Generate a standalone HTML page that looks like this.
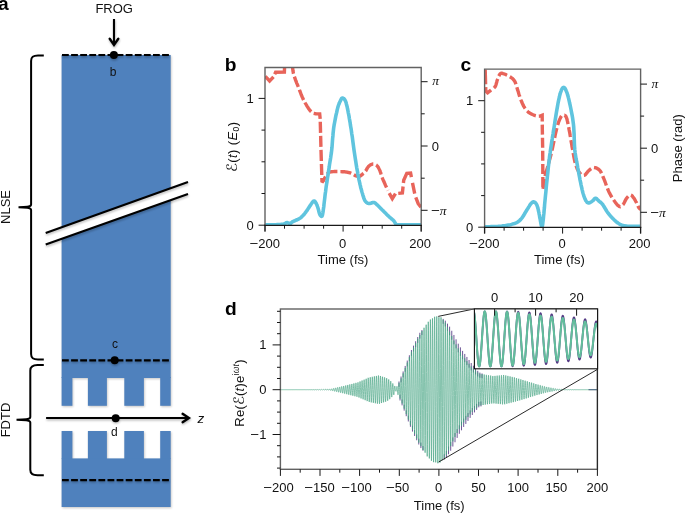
<!DOCTYPE html>
<html lang="en"><head><meta charset="utf-8"><title>Figure</title>
<style>html,body{margin:0;padding:0;background:#fff}svg{display:block}</style></head>
<body>
<svg width="685" height="514" viewBox="0 0 685 514" font-family="'Liberation Sans', 'DejaVu Sans', sans-serif" font-size="13" fill="#111">
<rect width="685" height="514" fill="#fff"/>
<g id="panel-a">
<text x="-2.1" y="9.7" font-size="19.2" font-weight="bold" fill="#000">a</text>
<text x="114.2" y="13.2" text-anchor="middle">FROG</text>
<defs><filter id="sh" x="-20%" y="-20%" width="140%" height="140%"><feGaussianBlur stdDeviation="0.9"/></filter></defs>
<g fill="#000" opacity="0.22" filter="url(#sh)" transform="translate(0.8 1.1)"><rect x="61.6" y="55" width="109.1" height="323"/><rect x="61.6" y="377" width="10.8" height="28.8"/><rect x="61.6" y="431" width="10.8" height="28"/><rect x="87.9" y="377" width="19.0" height="28.8"/><rect x="87.9" y="431" width="19.0" height="28"/><rect x="124.3" y="377" width="19.6" height="28.8"/><rect x="124.3" y="431" width="19.6" height="28"/><rect x="160.2" y="377" width="10.5" height="28.8"/><rect x="160.2" y="431" width="10.5" height="28"/><rect x="61.6" y="458.4" width="109.1" height="48.6"/></g>
<g fill="#4f81bd"><rect x="61.6" y="55" width="109.1" height="323"/><rect x="61.6" y="377" width="10.8" height="28.8"/><rect x="61.6" y="431" width="10.8" height="28"/><rect x="87.9" y="377" width="19.0" height="28.8"/><rect x="87.9" y="431" width="19.0" height="28"/><rect x="124.3" y="377" width="19.6" height="28.8"/><rect x="124.3" y="431" width="19.6" height="28"/><rect x="160.2" y="377" width="10.5" height="28.8"/><rect x="160.2" y="431" width="10.5" height="28"/><rect x="61.6" y="458.4" width="109.1" height="48.6"/></g>
<polygon points="45.7,233 188,182 188,194 45.7,244.6" fill="#fff"/>
<g stroke="#000" fill="none" opacity="0.28" filter="url(#sh)" transform="translate(0.4 1.4)"><path d="M45.7 233 L188 182 M45.7 244.6 L188 194" stroke-width="2.1"/><path d="M62 55 H170.8" stroke-width="2.2" stroke-dasharray="6.8 2.3"/><path d="M62 360.3 H170.8" stroke-width="2.2" stroke-dasharray="6.8 2.3"/><path d="M62 480.1 H170.8" stroke-width="2.2" stroke-dasharray="6.8 2.3"/><path d="M114 19 V45" stroke-width="2.1"/><path d="M109.7 38.8 L114 45 L118.3 38.8" stroke-width="2.4" stroke-linecap="round" stroke-linejoin="miter"/><path d="M46.1 418 H189" stroke-width="2.2"/><path d="M182.6 413.8 L188.9 418 L182.6 422.2" stroke-width="2.4" stroke-linecap="round" stroke-linejoin="miter"/><circle cx="113.9" cy="55" r="4" fill="#000" stroke="none"/><circle cx="114.7" cy="360.3" r="4" fill="#000" stroke="none"/><circle cx="115.7" cy="418.2" r="4" fill="#000" stroke="none"/></g>
<g stroke="#000" fill="none"><path d="M45.7 233 L188 182 M45.7 244.6 L188 194" stroke-width="2.1"/><path d="M62 55 H170.8" stroke-width="2.2" stroke-dasharray="6.8 2.3"/><path d="M62 360.3 H170.8" stroke-width="2.2" stroke-dasharray="6.8 2.3"/><path d="M62 480.1 H170.8" stroke-width="2.2" stroke-dasharray="6.8 2.3"/><path d="M114 19 V45" stroke-width="2.1"/><path d="M109.7 38.8 L114 45 L118.3 38.8" stroke-width="2.4" stroke-linecap="round" stroke-linejoin="miter"/><path d="M46.1 418 H189" stroke-width="2.2"/><path d="M182.6 413.8 L188.9 418 L182.6 422.2" stroke-width="2.4" stroke-linecap="round" stroke-linejoin="miter"/><circle cx="113.9" cy="55" r="4" fill="#000" stroke="none"/><circle cx="114.7" cy="360.3" r="4" fill="#000" stroke="none"/><circle cx="115.7" cy="418.2" r="4" fill="#000" stroke="none"/></g>
<text x="197.6" y="422.7" font-style="italic" font-size="13.5">z</text>
<text x="113" y="75.5" text-anchor="middle" font-size="12">b</text>
<text x="115" y="348.2" text-anchor="middle" font-size="12">c</text>
<text x="114.3" y="436.3" text-anchor="middle" font-size="12">d</text>
<path d="M43.8 55.6 H38 C33 55.6 31.1 57 31.1 61 V204.6 C31.1 206.6 29 207.3 18.5 207.3 C29 207.3 31.1 208 31.1 210 V354 C31.1 358 33 359.5 38 359.5 H43.8" stroke="#000" stroke-width="2" fill="none"/>
<path d="M43.8 364.9 H37.5 C32.5 364.9 30.3 366.3 30.3 370.5 V417.1 C30.3 419.1 28 419.8 16.5 419.8 C28 419.8 30.3 420.5 30.3 422.5 V469.8 C30.3 473.8 32.5 475.3 37.5 475.3 H43.8" stroke="#000" stroke-width="2" fill="none"/>
<text transform="translate(10.3 207) rotate(-90)" text-anchor="middle">NLSE</text>
<text transform="translate(9.9 420) rotate(-90)" text-anchor="middle">FDTD</text>
</g>
<g id="panel-b">
<clipPath id="clipb"><rect x="265" y="67.5" width="156.2" height="157.5"/></clipPath>
<g clip-path="url(#clipb)">
<path d="M265.3 76.3 L269.6 81.0 L273.5 76.8 L275.6 72.3 L284.4 72.1 L284.8 60.0" stroke="#e8645a" stroke-width="3.4" stroke-dasharray="12.1 2.9 40 3" stroke-dashoffset="0" fill="none" stroke-linejoin="miter" stroke-miterlimit="2.2"/>
<path d="M292.5 62.8 L292.6 67.8 L292.6 67.8 L292.7 68.2 L292.7 68.8 L292.8 69.5 L292.9 70.3 L293.0 71.1 L293.2 72.0 L293.3 72.9 L293.5 73.7 L293.7 74.5 L294.0 75.4 L294.3 76.3 L294.6 77.2 L294.9 78.1 L295.2 79.0 L295.5 79.9 L295.8 80.7 L296.1 81.5 L296.4 82.2 L296.6 82.8 L296.9 83.5 L297.2 84.1 L297.5 84.8 L297.8 85.6 L298.2 86.5 L298.6 87.5 L299.0 88.6 L299.4 89.8 L299.8 91.0 L300.3 92.2 L300.8 93.5 L301.2 94.7 L301.7 95.8 L302.2 96.9 L302.7 97.9 L303.1 99.0 L303.6 100.0 L304.2 101.0 L304.7 102.0 L305.2 103.0 L305.8 104.0 L306.4 105.0 L307.0 106.1 L307.7 107.1 L308.4 108.2 L309.1 109.2 L309.8 110.1 L310.4 110.9 L311.0 111.6 L311.6 112.1 L312.1 112.6 L312.6 112.9 L313.1 113.1 L313.6 113.3 L314.1 113.4 L314.6 113.6 L315.1 113.7 L315.7 113.8 L316.3 113.9 L317.0 113.9 L317.7 113.9 L318.3 113.9 L318.9 113.9 L319.3 113.9 L319.7 113.9 L320.2 119.0 L321.0 150.0 L322.0 182.3 L323.3 180.8 L323.5 180.4 L323.8 179.9 L324.1 179.3 L324.5 178.6 L324.8 177.9 L325.2 177.2 L325.6 176.6 L326.0 176.0 L326.4 175.5 L326.7 174.9 L327.0 174.4 L327.4 173.9 L327.8 173.4 L328.2 173.0 L328.7 172.6 L329.2 172.3 L329.8 172.1 L330.5 171.9 L331.2 171.7 L332.0 171.7 L332.7 171.6 L333.5 171.6 L334.3 171.5 L335.0 171.5 L335.7 171.5 L336.4 171.5 L337.1 171.5 L337.7 171.5 L338.4 171.5 L339.1 171.5 L339.8 171.6 L340.5 171.6 L341.3 171.6 L342.0 171.7 L342.8 171.7 L343.7 171.8 L344.5 171.8 L345.2 171.9 L346.0 172.0 L346.7 172.1 L347.4 172.2 L348.0 172.3 L348.6 172.5 L349.1 172.6 L349.7 172.7 L350.2 172.9 L350.8 173.1 L351.3 173.3 L351.8 173.5 L352.4 173.8 L352.9 174.2 L353.5 174.5 L354.0 174.8 L354.5 175.1 L354.9 175.4 L355.4 175.6 L355.8 175.8 L356.2 175.9 L356.6 176.0 L357.0 176.1 L357.3 176.2 L357.6 176.3 L358.0 176.3 L358.3 176.3 L358.6 176.3 L358.9 176.3 L359.1 176.3 L359.4 176.2 L359.7 176.2 L360.0 176.0 L360.3 175.9 L360.7 175.6 L361.2 175.3 L361.7 174.8 L362.3 174.4 L362.9 173.8 L363.6 173.3 L364.2 172.7 L364.8 172.1 L365.3 171.5 L365.8 170.9 L366.2 170.3 L366.5 169.6 L366.9 168.9 L367.3 168.2 L367.6 167.6 L368.1 167.0 L368.5 166.5 L369.0 166.0 L369.5 165.6 L370.1 165.2 L370.7 164.8 L371.2 164.5 L371.8 164.3 L372.4 164.1 L372.9 164.0 L373.4 164.0 L373.9 164.0 L374.4 164.2 L374.9 164.4 L375.4 164.6 L375.9 164.9 L376.4 165.2 L376.8 165.6 L377.2 166.0 L377.6 166.4 L378.0 166.9 L378.3 167.4 L378.6 168.0 L379.0 168.7 L379.3 169.4 L379.7 170.2 L380.1 171.1 L380.4 172.1 L380.8 173.1 L381.1 174.2 L381.5 175.4 L381.9 176.6 L382.3 177.8 L382.8 179.1 L383.4 180.5 L384.1 182.0 L384.8 183.7 L385.5 185.4 L386.3 187.0 L386.9 188.4 L387.5 189.6 L387.9 190.5" stroke="#e8645a" stroke-width="3.4" stroke-dasharray="11.05 3.0" stroke-dashoffset="0" fill="none" stroke-linejoin="miter" stroke-miterlimit="2.2"/>
<path d="M389.2 193.2 L392.3 198.7 L395.5 193.6 L402.4 193.0 L403.7 180.3 L406.8 173.4 L410.6 173.1 L412.5 182.9 L415.1 195.5 L418.2 203.7 L421.0 207.3" stroke="#e8645a" stroke-width="3.4" stroke-dasharray="12.3 2.8 10.7 3.5 18.2 5.8 11 3.9 12 3" stroke-dashoffset="0" fill="none" stroke-linejoin="miter" stroke-miterlimit="2.2"/>
<path d="M265.2 224.9 L266.0 224.9 L267.0 224.9 L268.2 224.9 L269.6 224.8 L271.0 224.8 L272.4 224.8 L273.8 224.7 L275.0 224.7 L276.1 224.7 L277.2 224.6 L278.3 224.6 L279.4 224.5 L280.4 224.5 L281.4 224.4 L282.3 224.3 L283.1 224.2 L283.8 224.0 L284.4 223.8 L284.9 223.6 L285.4 223.3 L285.8 223.1 L286.2 222.8 L286.6 222.7 L287.0 222.6 L287.4 222.6 L287.8 222.8 L288.2 223.0 L288.5 223.2 L288.9 223.4 L289.2 223.6 L289.5 223.7 L289.9 223.7 L290.2 223.6 L290.6 223.4 L290.9 223.2 L291.2 222.9 L291.5 222.6 L291.9 222.2 L292.3 221.9 L292.8 221.6 L293.4 221.3 L294.1 221.0 L294.9 220.7 L295.7 220.3 L296.5 220.0 L297.3 219.7 L298.0 219.3 L298.7 219.0 L299.3 218.7 L299.8 218.3 L300.3 218.0 L300.7 217.7 L301.2 217.3 L301.6 217.0 L302.0 216.6 L302.5 216.1 L303.0 215.6 L303.5 215.1 L304.0 214.5 L304.4 213.9 L304.9 213.3 L305.4 212.6 L305.9 212.0 L306.4 211.3 L306.9 210.6 L307.4 209.9 L307.9 209.1 L308.4 208.3 L308.9 207.6 L309.4 206.8 L309.8 206.1 L310.3 205.4 L310.8 204.7 L311.2 204.0 L311.7 203.3 L312.1 202.7 L312.6 202.1 L313.0 201.6 L313.4 201.2 L313.8 201.0 L314.2 201.0 L314.5 201.1 L314.8 201.3 L315.1 201.7 L315.4 202.1 L315.7 202.5 L315.9 203.0 L316.2 203.5 L316.5 204.0 L316.7 204.5 L317.0 205.1 L317.2 205.7 L317.4 206.4 L317.7 207.1 L317.9 207.7 L318.1 208.4 L318.3 209.1 L318.5 209.9 L318.7 210.7 L318.9 211.5 L319.1 212.3 L319.3 213.0 L319.5 213.7 L319.7 214.2 L320.0 214.7 L320.2 215.2 L320.5 215.6 L320.9 216.0 L321.2 216.3 L321.5 216.4 L321.7 216.3 L322.0 216.1 L322.2 215.7 L322.4 215.1 L322.6 214.4 L322.7 213.6 L322.9 212.6 L323.1 211.4 L323.3 210.0 L323.5 208.4 L323.8 206.5 L324.0 204.4 L324.3 201.9 L324.6 199.4 L324.9 196.7 L325.2 194.0 L325.6 191.4 L325.9 188.9 L326.2 186.5 L326.6 184.0 L327.0 181.6 L327.3 179.2 L327.7 176.8 L328.1 174.4 L328.4 171.9 L328.8 169.5 L329.2 167.1 L329.5 164.7 L329.9 162.3 L330.3 159.9 L330.7 157.5 L331.0 155.1 L331.4 152.6 L331.7 150.0 L332.0 147.3 L332.2 144.6 L332.4 141.7 L332.6 138.9 L332.9 136.0 L333.1 133.2 L333.4 130.5 L333.7 127.8 L334.1 125.2 L334.6 122.5 L335.1 119.8 L335.6 117.2 L336.1 114.7 L336.7 112.4 L337.1 110.3 L337.6 108.4 L338.0 106.8 L338.4 105.5 L338.8 104.4 L339.2 103.5 L339.5 102.6 L339.9 101.9 L340.2 101.2 L340.5 100.6 L340.8 100.0 L341.1 99.4 L341.3 99.0 L341.5 98.6 L341.8 98.3 L342.0 98.1 L342.3 98.0 L342.6 98.0 L342.9 98.1 L343.3 98.3 L343.7 98.5 L344.1 98.8 L344.5 99.3 L344.9 99.9 L345.3 100.7 L345.7 101.6 L346.1 102.7 L346.4 104.0 L346.8 105.5 L347.2 107.0 L347.5 108.7 L347.9 110.5 L348.2 112.3 L348.6 114.2 L349.0 116.1 L349.3 118.2 L349.7 120.4 L350.1 122.6 L350.4 124.9 L350.8 127.2 L351.2 129.4 L351.5 131.7 L351.8 134.0 L352.2 136.3 L352.5 138.6 L352.8 141.0 L353.1 143.3 L353.4 145.6 L353.7 147.8 L354.0 150.0 L354.3 152.1 L354.6 154.1 L354.9 156.1 L355.2 158.0 L355.5 159.9 L355.8 161.8 L356.1 163.7 L356.4 165.6 L356.7 167.6 L357.1 169.6 L357.5 171.6 L357.8 173.6 L358.2 175.6 L358.6 177.5 L358.9 179.3 L359.3 181.1 L359.7 182.8 L360.0 184.4 L360.4 185.9 L360.7 187.4 L361.1 188.8 L361.5 190.2 L361.8 191.5 L362.2 192.8 L362.6 194.0 L362.9 195.2 L363.3 196.4 L363.6 197.5 L364.0 198.5 L364.4 199.4 L364.8 200.3 L365.2 201.0 L365.6 201.6 L366.1 202.1 L366.5 202.5 L367.0 202.8 L367.5 203.1 L368.0 203.3 L368.5 203.4 L369.0 203.5 L369.6 203.5 L370.2 203.4 L370.8 203.2 L371.4 203.0 L372.1 202.7 L372.7 202.6 L373.3 202.5 L373.9 202.5 L374.4 202.7 L374.9 202.9 L375.4 203.2 L375.8 203.5 L376.2 203.9 L376.7 204.4 L377.2 204.9 L377.8 205.4 L378.4 206.0 L379.1 206.7 L379.8 207.4 L380.6 208.2 L381.3 209.0 L382.1 209.8 L382.9 210.5 L383.6 211.3 L384.3 212.0 L385.1 212.8 L385.9 213.6 L386.7 214.4 L387.4 215.1 L388.2 215.8 L388.9 216.5 L389.5 217.1 L390.1 217.6 L390.6 218.1 L391.2 218.5 L391.6 218.9 L392.1 219.2 L392.5 219.6 L393.0 220.0 L393.4 220.4 L393.8 220.9 L394.2 221.4 L394.5 221.9 L394.9 222.5 L395.2 223.0 L395.5 223.5 L395.9 223.9 L396.3 224.2 L396.6 224.4 L396.8 224.6 L396.9 224.6 L397.0 224.7 L397.3 224.7 L397.8 224.7 L398.7 224.7 L400.0 224.7 L402.0 224.7 L404.6 224.8 L407.6 224.8 L410.8 224.8 L414.0 224.9 L417.0 224.9 L419.4 224.9 L421.2 224.9" stroke="#5fc4de" stroke-width="3.6" fill="none" stroke-linejoin="round" stroke-linecap="butt"/>
</g>
<path d="M265 231.6 V67.5 H421.2 V231.6" fill="none" stroke="#626262" stroke-width="1.4" stroke-linejoin="miter"/>
<path d="M264.3 225.4 H421.9" fill="none" stroke="#1a1a1a" stroke-width="1.1"/>
<path d="M265 225.2 h-6.4 M265 193.5 h-3.5 M265 161.8 h-3.5 M265 130.1 h-3.5 M265 98.4 h-6.4 M421.2 210.3 h6.4 M421.2 178.2 h3.5 M421.2 146.0 h6.4 M421.2 113.8 h3.5 M421.2 81.7 h6.4 M265.0 225.2 v6.4 M284.5 225.2 v3.5 M304.1 225.2 v3.5 M323.6 225.2 v3.5 M343.1 225.2 v6.4 M362.6 225.2 v3.5 M382.2 225.2 v3.5 M401.7 225.2 v3.5 M421.2 225.2 v6.4" stroke="#161616" stroke-width="1" fill="none"/>
<text x="253.7" y="102.9" text-anchor="end">1</text>
<text x="253.7" y="229.7" text-anchor="end">0</text>
<text x="264.7" y="248.2" text-anchor="middle"><tspan textLength="8.8" lengthAdjust="spacingAndGlyphs">−</tspan>200</text>
<text x="342.6" y="248.2" text-anchor="middle">0</text>
<text x="420.2" y="248.2" text-anchor="middle">200</text>
<text x="343" y="264.3" text-anchor="middle">Time (fs)</text>
<text x="432.2" y="85.4" font-family="'Liberation Serif', 'DejaVu Serif', serif" font-style="italic" font-size="13.5">π</text>
<text x="431.7" y="150.5">0</text>
<text x="430.9" y="214.7"><tspan textLength="8.8" lengthAdjust="spacingAndGlyphs">−</tspan><tspan font-family="'Liberation Serif', 'DejaVu Serif', serif" font-style="italic" font-size="13.5">π</tspan></text>
<text x="224.7" y="70.55" font-size="19.2" font-weight="bold" fill="#000">b</text>
<text transform="translate(236.5 146.8) rotate(-90)" text-anchor="middle" letter-spacing="0.4"><tspan font-family="'DejaVu Sans', sans-serif" font-style="italic" font-size="14.5">ℰ</tspan>(<tspan font-style="italic">t</tspan>) (<tspan font-style="italic">E</tspan><tspan font-size="8.5" dy="2.5">0</tspan><tspan dy="-2.5">)</tspan></text>
</g>
<g id="panel-c">
<clipPath id="clipc"><rect x="484.6" y="69.1" width="156.0" height="157.9"/></clipPath>
<g clip-path="url(#clipc)">
<path d="M485.2 69.6 L485.8 91.0 L487.6 92.8 L487.6 92.8 L487.9 92.6 L488.2 92.3 L488.6 92.0 L489.1 91.6 L489.6 91.2 L490.1 90.8 L490.6 90.4 L491.1 90.0 L491.6 89.6 L492.1 89.3 L492.7 88.9 L493.2 88.5 L493.8 88.1 L494.3 87.6 L494.8 87.1 L495.2 86.5 L495.6 85.8 L495.9 85.0 L496.2 84.1 L496.4 83.1 L496.7 82.2 L496.9 81.2 L497.2 80.3 L497.5 79.5 L497.8 78.7 L498.1 77.8 L498.5 77.0 L498.8 76.1 L499.2 75.4 L499.5 74.7 L499.9 74.1 L500.4 73.7 L500.9 73.4 L501.4 73.3 L502.0 73.3 L502.5 73.4 L503.1 73.6 L503.8 73.8 L504.4 74.0 L505.1 74.3 L505.8 74.6 L506.6 75.0 L507.5 75.4 L508.4 75.8 L509.2 76.3 L510.1 76.8 L510.8 77.3 L511.5 77.8 L512.1 78.3 L512.6 78.7 L513.1 79.1 L513.5 79.6 L513.9 80.1 L514.3 80.6 L514.6 81.2 L515.0 81.8 L515.3 82.5 L515.6 83.3 L515.9 84.1 L516.2 85.0 L516.4 85.9 L516.7 86.8 L517.0 87.8 L517.3 88.8 L517.6 89.9 L518.0 91.0 L518.4 92.2 L518.7 93.4 L519.1 94.7 L519.5 95.9 L519.9 97.1 L520.3 98.2 L520.7 99.3 L521.1 100.4 L521.6 101.5 L522.0 102.5 L522.4 103.5 L522.9 104.5 L523.3 105.4 L523.8 106.3 L524.3 107.1 L524.7 107.9 L525.2 108.6 L525.7 109.3 L526.2 109.9 L526.7 110.5 L527.3 111.1 L527.8 111.6 L528.3 112.1 L528.9 112.5 L529.5 112.9 L530.0 113.3 L530.6 113.6 L531.2 113.9 L531.9 114.2 L532.5 114.5 L533.2 114.8 L533.9 115.1 L534.7 115.4 L535.4 115.7 L536.2 115.9 L537.0 116.1 L537.7 116.2 L538.3 116.3 L538.9 116.3 L539.5 116.2 L540.1 116.0 L540.6 115.8 L541.1 115.6 L541.5 115.4 L541.9 115.2 L542.2 115.1 L542.3 127.8 L542.7 150.0 L542.9 189.5 L545.2 175.3 L545.5 174.3 L545.9 172.9 L546.4 171.2 L546.9 169.4 L547.5 167.4 L548.1 165.4 L548.6 163.5 L549.1 161.7 L549.5 160.0 L550.0 158.4 L550.4 156.9 L550.8 155.3 L551.2 153.6 L551.6 151.9 L552.0 150.0 L552.5 148.0 L553.0 145.7 L553.5 143.2 L554.1 140.5 L554.7 137.7 L555.2 135.0 L555.8 132.3 L556.4 129.9 L556.9 127.8 L557.4 125.9 L557.9 124.3 L558.4 122.7 L558.9 121.3 L559.4 120.1 L559.9 118.9 L560.4 118.0 L560.8 117.1 L561.2 116.4 L561.6 115.9 L562.0 115.5 L562.3 115.3 L562.7 115.2 L563.0 115.1 L563.3 115.1 L563.7 115.2 L564.1 115.3 L564.4 115.3 L564.8 115.5 L565.2 115.7 L565.5 116.0 L565.9 116.5 L566.2 117.2 L566.6 118.1 L567.0 119.3 L567.3 120.7 L567.7 122.3 L568.0 124.0 L568.4 125.9 L568.8 127.8 L569.1 129.8 L569.5 131.7 L569.9 133.7 L570.2 135.7 L570.6 137.8 L570.9 140.0 L571.3 142.2 L571.7 144.3 L572.0 146.5 L572.4 148.5 L572.8 150.5 L573.1 152.5 L573.5 154.6 L573.8 156.5 L574.2 158.5 L574.6 160.3 L575.0 162.0 L575.4 163.6 L575.8 165.0 L576.3 166.4 L576.8 167.6 L577.2 168.8 L577.7 169.8 L578.2 170.8 L578.8 171.6 L579.3 172.4 L579.9 173.1 L580.5 173.7 L581.1 174.3 L581.7 174.7 L582.3 175.0 L583.0 175.3 L583.6 175.4 L584.2 175.3 L584.8 175.0 L585.4 174.6 L586.0 173.9 L586.6 173.2 L587.2 172.4 L587.8 171.7 L588.4 171.0 L589.0 170.4 L589.6 169.9 L590.2 169.4 L590.8 168.9 L591.4 168.5 L592.0 168.1 L592.6 167.8 L593.2 167.6 L593.9 167.5 L594.6 167.6 L595.3 167.7 L596.1 167.9 L596.9 168.3 L597.6 168.7 L598.4 169.2 L599.1 169.8 L599.7 170.4 L600.3 171.1 L600.8 171.9 L601.3 172.8 L601.7 173.7 L602.1 174.7 L602.6 175.8 L603.1 177.0 L603.6 178.2 L604.2 179.6 L604.8 181.1 L605.4 182.8 L606.0 184.5 L606.6 186.2 L607.3 187.9 L607.9 189.5 L608.5 190.9 L609.1 192.2 L609.7 193.4 L610.3 194.5 L610.9 195.6 L611.5 196.7 L612.1 197.7 L612.7 198.6 L613.4 199.6 L614.1 200.6 L614.8 201.6 L615.6 202.7 L616.4 203.7 L617.1 204.6 L617.9 205.4 L618.6 206.0 L619.2 206.4 L619.8 206.6 L620.3 206.7 L620.8 206.5 L621.3 206.3 L621.7 206.0 L622.2 205.5 L622.6 205.0 L623.1 204.5 L623.6 203.9 L624.1 203.0 L624.6 202.1 L625.0 201.1 L625.5 200.2 L626.0 199.2 L626.5 198.4 L627.0 197.7 L627.5 197.1 L628.0 196.6 L628.5 196.1 L629.0 195.7 L629.4 195.4 L629.9 195.2 L630.4 195.1 L630.9 195.1 L631.4 195.3 L631.9 195.6 L632.4 196.1 L632.8 196.7 L633.3 197.4 L633.8 198.1 L634.3 198.8 L634.8 199.6 L635.3 200.5 L635.8 201.5 L636.4 202.5 L636.9 203.7 L637.4 204.8 L637.9 205.8 L638.3 206.7 L638.7 207.4 L639.0 207.9 L639.4 208.3 L639.6 208.6 L639.9 208.8 L640.1 209.0 L640.3 209.1 L640.5 209.2 L640.6 209.3" stroke="#e8645a" stroke-width="3.4" stroke-dasharray="14.6 2.9 10.9 3.5 10 3.1 10 3.1 10 3.1 10 3.1 10 3.1 10 3.1 10 3.1 10 3.1 10 3.1 10 3.1 10 3.1 10 3.1 10 3.1 10 3.1 10 3.1 10 3.1 10 3.1 10 3.1 10 3.1 10 3.1 10 3.1 10 3.1 10 3.1 10 3.1 10 3.1 10 3.1 10 3.1 10 3.1 10 3.1 10 3.1 10 3.1 10 3.1 10 3.1 10 3.1 10 3.1 10 3.1 10 3.1 10 3.1 10 3.1 10 3.1" stroke-dashoffset="0" fill="none" stroke-linejoin="miter" stroke-miterlimit="2.2"/>
<path d="M484.9 226.8 L485.4 226.8 L486.2 226.8 L487.0 226.7 L488.0 226.7 L489.0 226.7 L490.0 226.7 L491.0 226.6 L492.0 226.6 L492.9 226.6 L493.8 226.6 L494.7 226.5 L495.6 226.5 L496.5 226.5 L497.5 226.5 L498.5 226.4 L499.5 226.3 L500.6 226.2 L501.8 226.1 L503.1 225.9 L504.3 225.7 L505.6 225.6 L506.9 225.4 L508.1 225.1 L509.2 224.9 L510.3 224.7 L511.4 224.4 L512.4 224.1 L513.4 223.8 L514.4 223.5 L515.3 223.2 L516.2 222.8 L517.0 222.4 L517.7 222.0 L518.4 221.5 L519.0 221.1 L519.6 220.6 L520.1 220.0 L520.7 219.5 L521.2 218.8 L521.8 218.1 L522.4 217.3 L523.0 216.4 L523.7 215.4 L524.3 214.3 L524.9 213.3 L525.5 212.2 L526.1 211.2 L526.7 210.3 L527.2 209.4 L527.8 208.5 L528.3 207.7 L528.8 206.9 L529.3 206.1 L529.7 205.3 L530.2 204.7 L530.6 204.1 L531.0 203.6 L531.4 203.2 L531.8 202.8 L532.1 202.5 L532.5 202.2 L532.8 202.0 L533.1 201.9 L533.5 201.9 L533.9 201.9 L534.2 202.0 L534.6 202.2 L535.0 202.5 L535.4 202.8 L535.7 203.2 L536.1 203.6 L536.4 204.1 L536.7 204.7 L537.0 205.3 L537.2 206.0 L537.5 206.7 L537.7 207.5 L537.9 208.4 L538.2 209.3 L538.4 210.3 L538.6 211.4 L538.9 212.5 L539.1 213.8 L539.4 215.1 L539.6 216.4 L539.8 217.7 L540.1 218.9 L540.3 220.0 L540.5 221.1 L540.7 222.2 L540.9 223.4 L541.1 224.4 L541.3 225.4 L541.5 226.1 L541.7 226.6 L541.9 226.8 L542.1 226.7 L542.2 226.4 L542.4 225.9 L542.5 225.2 L542.7 224.2 L542.8 223.0 L543.0 221.6 L543.2 220.0 L543.4 218.1 L543.6 215.9 L543.9 213.4 L544.1 210.7 L544.4 207.8 L544.6 204.8 L544.9 201.7 L545.2 198.6 L545.5 195.3 L545.9 191.6 L546.2 187.8 L546.6 183.9 L547.0 180.0 L547.4 176.3 L547.8 172.7 L548.1 169.5 L548.4 166.6 L548.7 164.0 L549.0 161.6 L549.3 159.3 L549.5 157.1 L549.8 154.8 L550.2 152.5 L550.5 150.0 L550.9 147.4 L551.3 144.7 L551.7 141.9 L552.2 139.1 L552.6 136.3 L553.1 133.5 L553.5 130.6 L554.0 127.8 L554.5 124.9 L554.9 121.8 L555.4 118.7 L555.9 115.6 L556.4 112.5 L556.9 109.6 L557.4 106.9 L557.8 104.5 L558.2 102.3 L558.6 100.4 L559.0 98.6 L559.4 97.0 L559.7 95.5 L560.1 94.1 L560.4 92.9 L560.8 91.8 L561.2 90.8 L561.5 89.9 L561.9 89.2 L562.3 88.5 L562.6 88.0 L563.0 87.7 L563.3 87.5 L563.7 87.4 L564.1 87.5 L564.4 87.7 L564.8 88.1 L565.2 88.7 L565.5 89.3 L565.9 90.1 L566.2 90.9 L566.6 91.8 L567.0 92.8 L567.3 93.8 L567.6 94.9 L568.0 96.1 L568.3 97.4 L568.7 98.9 L569.1 100.6 L569.5 102.5 L570.0 104.6 L570.5 107.0 L571.0 109.5 L571.5 112.2 L572.1 115.1 L572.6 118.0 L573.0 120.9 L573.4 123.9 L573.7 127.0 L573.9 130.3 L574.1 133.8 L574.2 137.3 L574.3 140.8 L574.4 144.1 L574.6 147.2 L574.8 150.0 L575.1 152.5 L575.4 154.6 L575.7 156.6 L576.0 158.5 L576.4 160.2 L576.7 162.0 L577.1 163.7 L577.4 165.6 L577.7 167.6 L578.1 169.5 L578.5 171.5 L578.8 173.5 L579.2 175.5 L579.6 177.4 L579.9 179.3 L580.3 181.1 L580.7 182.9 L581.0 184.6 L581.4 186.3 L581.8 188.0 L582.1 189.6 L582.5 191.1 L582.8 192.5 L583.2 193.8 L583.6 195.0 L583.9 196.1 L584.3 197.1 L584.7 198.1 L585.0 198.9 L585.4 199.7 L585.7 200.4 L586.1 201.0 L586.5 201.5 L586.8 201.9 L587.1 202.3 L587.5 202.5 L587.8 202.7 L588.2 202.8 L588.6 202.9 L589.0 202.9 L589.4 202.8 L589.9 202.6 L590.4 202.3 L591.0 202.0 L591.5 201.7 L592.0 201.3 L592.5 200.9 L592.9 200.6 L593.3 200.3 L593.6 199.9 L593.9 199.5 L594.2 199.1 L594.5 198.7 L594.8 198.4 L595.2 198.3 L595.5 198.2 L595.9 198.3 L596.3 198.5 L596.7 198.8 L597.1 199.2 L597.5 199.7 L597.9 200.1 L598.4 200.6 L598.8 201.0 L599.3 201.4 L599.7 201.7 L600.2 202.1 L600.7 202.4 L601.1 202.8 L601.6 203.3 L602.2 203.9 L602.7 204.5 L603.2 205.3 L603.8 206.2 L604.4 207.2 L605.0 208.2 L605.6 209.3 L606.2 210.3 L606.8 211.3 L607.5 212.3 L608.2 213.2 L608.9 214.1 L609.6 215.0 L610.4 215.9 L611.1 216.7 L611.9 217.6 L612.7 218.4 L613.4 219.1 L614.1 219.8 L614.9 220.5 L615.6 221.2 L616.3 221.8 L617.0 222.4 L617.8 222.9 L618.5 223.4 L619.2 223.9 L619.9 224.3 L620.6 224.6 L621.3 224.9 L622.0 225.2 L622.7 225.4 L623.5 225.6 L624.2 225.7 L625.0 225.9 L625.8 226.0 L626.6 226.1 L627.5 226.2 L628.3 226.2 L629.2 226.2 L630.1 226.3 L631.0 226.3 L632.0 226.3 L633.1 226.3 L634.2 226.3 L635.5 226.4 L636.7 226.4 L637.9 226.4 L639.0 226.4 L639.9 226.4 L640.6 226.4" stroke="#5fc4de" stroke-width="3.6" fill="none" stroke-linejoin="round" stroke-linecap="butt"/>
</g>
<path d="M484.6 233.6 V69.1 H640.6 V233.6" fill="none" stroke="#626262" stroke-width="1.4" stroke-linejoin="miter"/>
<path d="M483.90000000000003 227.4 H641.3000000000001" fill="none" stroke="#1a1a1a" stroke-width="1.1"/>
<path d="M484.6 227.2 h-6.4 M484.6 195.6 h-3.5 M484.6 163.9 h-3.5 M484.6 132.3 h-3.5 M484.6 100.7 h-6.4 M640.6 212.3 h6.4 M640.6 180.2 h3.5 M640.6 148.2 h6.4 M640.6 116.1 h3.5 M640.6 84.1 h6.4 M484.6 227.2 v6.4 M504.1 227.2 v3.5 M523.6 227.2 v3.5 M543.1 227.2 v3.5 M562.6 227.2 v6.4 M582.1 227.2 v3.5 M601.6 227.2 v3.5 M621.1 227.2 v3.5 M640.6 227.2 v6.4" stroke="#161616" stroke-width="1" fill="none"/>
<text x="473.3" y="105.2" text-anchor="end">1</text>
<text x="473.3" y="231.7" text-anchor="end">0</text>
<text x="484.3" y="248.2" text-anchor="middle"><tspan textLength="8.8" lengthAdjust="spacingAndGlyphs">−</tspan>200</text>
<text x="562.1" y="248.2" text-anchor="middle">0</text>
<text x="639.6" y="248.2" text-anchor="middle">200</text>
<text x="559.4" y="264.3" text-anchor="middle">Time (fs)</text>
<text x="651.6" y="87.8" font-family="'Liberation Serif', 'DejaVu Serif', serif" font-style="italic" font-size="13.5">π</text>
<text x="651.1" y="152.7">0</text>
<text x="650.3000000000001" y="216.7"><tspan textLength="8.8" lengthAdjust="spacingAndGlyphs">−</tspan><tspan font-family="'Liberation Serif', 'DejaVu Serif', serif" font-style="italic" font-size="13.5">π</tspan></text>
<text x="460.4" y="70.55" font-size="19.2" font-weight="bold" fill="#000">c</text>
<text transform="translate(681.9 148.2) rotate(-90)" text-anchor="middle">Phase (rad)</text>
</g>
<g id="panel-d">
<path d="M398.99 386.83 V381.46 M400.02 394.65 V400.48 M401.06 382.34 V376.52 M402.09 399.54 V405.36 M403.13 377.27 V371.45 M404.17 404.82 V410.64 M405.20 371.76 V365.94 M406.24 410.36 V416.19 M407.28 366.39 V360.57 M408.32 415.66 V421.48 M409.37 361.09 V355.26 M410.41 420.97 V426.79 M411.45 355.83 V350.00 M412.49 425.76 V431.58 M413.54 351.45 V345.63 M414.59 430.14 V435.96 M415.63 347.07 V341.25 M416.68 434.44 V440.26 M417.73 342.84 V337.02 M418.78 438.68 V444.50 M419.83 338.60 V332.78 M420.88 442.61 V448.08 M421.93 335.06 V330.02 M422.99 446.07 V450.68 M443.18 323.84 V318.92 M444.25 454.26 V459.62 M445.32 326.44 V320.65 M446.40 450.86 V457.28 M447.47 330.71 V323.63 M448.54 446.52 V454.25 M449.62 335.05 V326.67 M450.70 442.05 V450.74 M451.77 339.67 V330.76 M452.85 437.40 V446.53 M453.93 344.33 V334.97 M455.01 433.02 V442.26 M456.09 348.34 V339.32 M457.17 429.09 V437.90 M458.25 352.27 V343.68 M459.34 425.31 V433.81 M460.42 355.82 V347.35 M461.50 421.84 V430.30 M462.58 359.29 V350.86 M463.66 418.60 V426.96 M464.75 362.21 V353.94 M465.83 415.78 V423.96 M466.91 365.04 V356.94 M467.99 413.02 V420.94 M469.07 367.69 V359.99 M470.15 410.40 V417.88 M471.23 370.31 V363.04 M472.32 407.95 V414.97 M473.40 372.46 V365.71 M474.48 405.94 V412.42 M475.56 374.47 V368.26 M476.64 403.92 V409.87 M477.72 376.48 V370.81 M478.80 401.91 V407.32 M479.88 377.77 V372.59 M480.96 401.45 V406.40 M482.04 378.14 V373.41" stroke="#553a85" stroke-width="0.95" fill="none" opacity="0.9"/>
<path d="M588.5 389.7 H597.4" stroke="#553a85" stroke-width="1" fill="none"/>
<path d="M280.40 389.70 L280.50 389.70 L280.61 389.70 L280.71 389.70 L280.81 389.70 L280.92 389.70 L281.02 389.70 L281.12 389.70 L281.22 389.70 L281.33 389.70 L281.43 389.70 L281.53 389.70 L281.64 389.70 L281.74 389.70 L281.84 389.70 L281.95 389.70 L282.05 389.70 L282.15 389.70 L282.25 389.70 L282.36 389.70 L282.46 389.70 L282.56 389.70 L282.67 389.70 L282.77 389.70 L282.87 389.70 L282.98 389.70 L283.08 389.70 L283.18 389.70 L283.28 389.70 L283.39 389.70 L283.49 389.70 L283.59 389.70 L283.70 389.70 L283.80 389.70 L283.90 389.70 L284.01 389.70 L284.11 389.70 L284.21 389.70 L284.31 389.70 L284.42 389.70 L284.52 389.70 L284.62 389.70 L284.73 389.70 L284.83 389.70 L284.93 389.70 L285.04 389.70 L285.14 389.70 L285.24 389.70 L285.35 389.70 L285.45 389.70 L285.55 389.70 L285.65 389.70 L285.76 389.70 L285.86 389.70 L285.96 389.70 L286.07 389.70 L286.17 389.70 L286.27 389.70 L286.38 389.70 L286.48 389.70 L286.58 389.70 L286.68 389.70 L286.79 389.70 L286.89 389.70 L286.99 389.70 L287.10 389.70 L287.20 389.70 L287.30 389.70 L287.41 389.70 L287.51 389.70 L287.61 389.70 L287.71 389.70 L287.82 389.70 L287.92 389.70 L288.02 389.70 L288.13 389.70 L288.23 389.70 L288.33 389.70 L288.44 389.70 L288.54 389.70 L288.64 389.70 L288.75 389.70 L288.85 389.70 L288.95 389.70 L289.05 389.70 L289.16 389.70 L289.26 389.70 L289.36 389.70 L289.47 389.70 L289.57 389.70 L289.67 389.70 L289.78 389.70 L289.88 389.70 L289.98 389.70 L290.08 389.70 L290.19 389.70 L290.29 389.70 L290.39 389.70 L290.50 389.70 L290.60 389.70 L290.70 389.70 L290.81 389.70 L290.91 389.70 L291.01 389.70 L291.11 389.70 L291.22 389.70 L291.32 389.70 L291.42 389.70 L291.53 389.70 L291.63 389.70 L291.73 389.70 L291.84 389.70 L291.94 389.70 L292.04 389.70 L292.14 389.70 L292.25 389.70 L292.35 389.70 L292.45 389.70 L292.56 389.70 L292.66 389.70 L292.76 389.70 L292.87 389.70 L292.97 389.70 L293.07 389.70 L293.18 389.70 L293.28 389.70 L293.38 389.70 L293.48 389.70 L293.59 389.70 L293.69 389.70 L293.79 389.70 L293.90 389.70 L294.00 389.70 L294.10 389.70 L294.21 389.70 L294.31 389.70 L294.41 389.70 L294.51 389.70 L294.62 389.70 L294.72 389.70 L294.82 389.70 L294.93 389.70 L295.03 389.70 L295.13 389.70 L295.24 389.70 L295.34 389.70 L295.44 389.70 L295.54 389.70 L295.65 389.70 L295.75 389.70 L295.85 389.70 L295.96 389.70 L296.06 389.70 L296.16 389.70 L296.27 389.70 L296.37 389.70 L296.47 389.70 L296.57 389.70 L296.68 389.70 L296.78 389.70 L296.88 389.70 L296.99 389.70 L297.09 389.70 L297.19 389.70 L297.30 389.70 L297.40 389.70 L297.50 389.70 L297.61 389.70 L297.71 389.70 L297.81 389.70 L297.91 389.70 L298.02 389.70 L298.12 389.70 L298.22 389.70 L298.33 389.70 L298.43 389.70 L298.53 389.70 L298.64 389.70 L298.74 389.70 L298.84 389.70 L298.94 389.70 L299.05 389.70 L299.15 389.70 L299.25 389.70 L299.36 389.70 L299.46 389.70 L299.56 389.70 L299.67 389.70 L299.77 389.70 L299.87 389.70 L299.97 389.70 L300.08 389.70 L300.18 389.70 L300.28 389.70 L300.39 389.70 L300.49 389.70 L300.59 389.70 L300.70 389.70 L300.80 389.69 L300.90 389.69 L301.00 389.69 L301.11 389.69 L301.21 389.69 L301.31 389.69 L301.42 389.70 L301.52 389.70 L301.62 389.71 L301.73 389.71 L301.83 389.72 L301.93 389.72 L302.04 389.72 L302.14 389.72 L302.24 389.72 L302.34 389.71 L302.45 389.70 L302.55 389.70 L302.65 389.69 L302.76 389.68 L302.86 389.67 L302.96 389.67 L303.07 389.67 L303.17 389.67 L303.27 389.68 L303.37 389.68 L303.48 389.69 L303.58 389.71 L303.68 389.72 L303.79 389.73 L303.89 389.74 L303.99 389.74 L304.10 389.74 L304.20 389.74 L304.30 389.73 L304.40 389.72 L304.51 389.70 L304.61 389.69 L304.71 389.67 L304.82 389.66 L304.92 389.65 L305.02 389.65 L305.13 389.65 L305.23 389.65 L305.33 389.66 L305.44 389.68 L305.54 389.70 L305.64 389.72 L305.74 389.73 L305.85 389.75 L305.95 389.76 L306.05 389.77 L306.16 389.76 L306.26 389.76 L306.36 389.74 L306.47 389.72 L306.57 389.70 L306.67 389.68 L306.77 389.66 L306.88 389.64 L306.98 389.63 L307.08 389.62 L307.19 389.63 L307.29 389.64 L307.39 389.66 L307.50 389.68 L307.60 389.70 L307.70 389.73 L307.80 389.75 L307.91 389.77 L308.01 389.79 L308.11 389.79 L308.22 389.78 L308.32 389.77 L308.42 389.75 L308.53 389.72 L308.63 389.69 L308.73 389.66 L308.83 389.63 L308.94 389.61 L309.04 389.60 L309.14 389.60 L309.25 389.61 L309.35 389.63 L309.45 389.65 L309.56 389.68 L309.66 389.72 L309.76 389.75 L309.87 389.78 L309.97 389.80 L310.07 389.81 L310.17 389.81 L310.28 389.80 L310.38 389.78 L310.48 389.75 L310.59 389.71 L310.69 389.68 L310.79 389.64 L310.90 389.61 L311.00 389.59 L311.10 389.58 L311.20 389.58 L311.31 389.59 L311.41 389.62 L311.51 389.65 L311.62 389.69 L311.72 389.73 L311.82 389.77 L311.93 389.80 L312.03 389.82 L312.13 389.83 L312.23 389.83 L312.34 389.82 L312.44 389.79 L312.54 389.75 L312.65 389.70 L312.75 389.66 L312.85 389.62 L312.96 389.58 L313.06 389.56 L313.16 389.55 L313.26 389.55 L313.37 389.57 L313.47 389.61 L313.57 389.65 L313.68 389.70 L313.78 389.75 L313.88 389.80 L313.99 389.84 L314.09 389.86 L314.19 389.87 L314.30 389.86 L314.40 389.84 L314.50 389.80 L314.60 389.75 L314.71 389.69 L314.81 389.63 L314.91 389.58 L315.02 389.54 L315.12 389.52 L315.22 389.51 L315.33 389.53 L315.43 389.56 L315.53 389.60 L315.63 389.66 L315.74 389.72 L315.84 389.78 L315.94 389.83 L316.05 389.88 L316.15 389.90 L316.25 389.90 L316.36 389.89 L316.46 389.85 L316.56 389.80 L316.66 389.74 L316.77 389.67 L316.87 389.60 L316.97 389.55 L317.08 389.50 L317.18 389.48 L317.28 389.48 L317.39 389.50 L317.49 389.54 L317.59 389.60 L317.70 389.67 L317.80 389.74 L317.90 389.81 L318.00 389.87 L318.11 389.92 L318.21 389.94 L318.31 389.93 L318.42 389.91 L318.52 389.86 L318.62 389.80 L318.73 389.72 L318.83 389.64 L318.93 389.57 L319.03 389.51 L319.14 389.46 L319.24 389.44 L319.34 389.45 L319.45 389.48 L319.55 389.54 L319.65 389.61 L319.76 389.69 L319.86 389.77 L319.96 389.85 L320.06 389.91 L320.17 389.96 L320.27 389.98 L320.37 389.97 L320.48 389.93 L320.58 389.87 L320.68 389.79 L320.79 389.70 L320.89 389.61 L320.99 389.52 L321.09 389.46 L321.20 389.41 L321.30 389.40 L321.40 389.41 L321.51 389.46 L321.61 389.53 L321.71 389.62 L321.82 389.71 L321.92 389.81 L322.02 389.90 L322.13 389.97 L322.23 390.02 L322.33 390.03 L322.43 390.01 L322.54 389.96 L322.64 389.88 L322.74 389.78 L322.85 389.67 L322.95 389.56 L323.05 389.47 L323.16 389.39 L323.26 389.35 L323.36 389.34 L323.46 389.37 L323.57 389.43 L323.67 389.52 L323.77 389.63 L323.88 389.75 L323.98 389.86 L324.08 389.96 L324.19 390.04 L324.29 390.08 L324.39 390.08 L324.49 390.05 L324.60 389.98 L324.70 389.88 L324.80 389.76 L324.91 389.63 L325.01 389.51 L325.11 389.41 L325.22 389.33 L325.32 389.29 L325.42 389.29 L325.52 389.34 L325.63 389.42 L325.73 389.53 L325.83 389.65 L325.94 389.79 L326.04 389.92 L326.14 390.03 L326.25 390.10 L326.35 390.14 L326.45 390.13 L326.56 390.08 L326.66 389.99 L326.76 389.87 L326.86 389.73 L326.97 389.59 L327.07 389.45 L327.17 389.34 L327.28 389.27 L327.38 389.23 L327.48 389.25 L327.59 389.31 L327.69 389.41 L327.79 389.54 L327.89 389.69 L328.00 389.84 L328.10 389.98 L328.20 390.09 L328.31 390.17 L328.41 390.19 L328.51 390.17 L328.62 390.10 L328.72 389.99 L328.82 389.85 L328.92 389.69 L329.03 389.53 L329.13 389.39 L329.23 389.27 L329.34 389.20 L329.44 389.18 L329.54 389.21 L329.65 389.29 L329.75 389.41 L329.85 389.56 L329.96 389.73 L330.06 389.90 L330.16 390.06 L330.26 390.20 L330.37 390.30 L330.47 390.34 L330.57 390.32 L330.68 390.23 L330.78 390.07 L330.88 389.87 L330.99 389.63 L331.09 389.39 L331.19 389.16 L331.29 388.98 L331.40 388.86 L331.50 388.82 L331.60 388.87 L331.71 389.01 L331.81 389.23 L331.91 389.51 L332.02 389.83 L332.12 390.14 L332.22 390.43 L332.32 390.65 L332.43 390.78 L332.53 390.81 L332.63 390.73 L332.74 390.53 L332.84 390.24 L332.94 389.89 L333.05 389.50 L333.15 389.11 L333.25 388.77 L333.35 388.52 L333.46 388.37 L333.56 388.36 L333.66 388.48 L333.77 388.73 L333.87 389.09 L333.97 389.53 L334.08 390.00 L334.18 390.45 L334.28 390.84 L334.39 391.12 L334.49 391.27 L334.59 391.27 L334.69 391.10 L334.80 390.79 L334.90 390.35 L335.00 389.84 L335.11 389.29 L335.21 388.78 L335.31 388.34 L335.42 388.03 L335.52 387.88 L335.62 387.91 L335.72 388.13 L335.83 388.51 L335.93 389.02 L336.03 389.61 L336.14 390.23 L336.24 390.81 L336.34 391.29 L336.45 391.62 L336.55 391.76 L336.65 391.70 L336.75 391.43 L336.86 390.98 L336.96 390.39 L337.06 389.72 L337.17 389.03 L337.27 388.39 L337.37 387.87 L337.48 387.53 L337.58 387.40 L337.68 387.50 L337.78 387.82 L337.89 388.34 L337.99 389.01 L338.09 389.76 L338.20 390.52 L338.30 391.22 L338.40 391.77 L338.51 392.12 L338.61 392.24 L338.71 392.10 L338.82 391.72 L338.92 391.12 L339.02 390.37 L339.12 389.54 L339.23 388.71 L339.33 387.96 L339.43 387.38 L339.54 387.02 L339.64 386.93 L339.74 387.11 L339.85 387.56 L339.95 388.23 L340.05 389.06 L340.15 389.97 L340.26 390.87 L340.36 391.67 L340.46 392.28 L340.57 392.64 L340.67 392.70 L340.77 392.47 L340.88 391.95 L340.98 391.20 L341.08 390.29 L341.18 389.30 L341.29 388.33 L341.39 387.49 L341.49 386.86 L341.60 386.51 L341.70 386.47 L341.80 386.76 L341.91 387.35 L342.01 388.18 L342.11 389.18 L342.21 390.24 L342.32 391.27 L342.42 392.15 L342.52 392.80 L342.63 393.15 L342.73 393.15 L342.83 392.80 L342.94 392.14 L343.04 391.22 L343.14 390.14 L343.25 389.00 L343.35 387.91 L343.45 386.99 L343.55 386.33 L343.66 386.00 L343.76 386.04 L343.86 386.45 L343.97 387.18 L344.07 388.19 L344.17 389.35 L344.28 390.57 L344.38 391.72 L344.48 392.68 L344.58 393.35 L344.69 393.66 L344.79 393.58 L344.89 393.11 L345.00 392.29 L345.10 391.20 L345.20 389.94 L345.31 388.64 L345.41 387.44 L345.51 386.44 L345.61 385.76 L345.72 385.47 L345.82 385.60 L345.92 386.14 L346.03 387.05 L346.13 388.23 L346.23 389.58 L346.34 390.96 L346.44 392.22 L346.54 393.25 L346.65 393.93 L346.75 394.20 L346.85 394.02 L346.95 393.40 L347.06 392.40 L347.16 391.12 L347.26 389.68 L347.37 388.23 L347.47 386.91 L347.57 385.85 L347.68 385.17 L347.78 384.94 L347.88 385.18 L347.98 385.88 L348.09 386.97 L348.19 388.34 L348.29 389.87 L348.40 391.39 L348.50 392.77 L348.60 393.85 L348.71 394.52 L348.81 394.72 L348.91 394.42 L349.01 393.64 L349.12 392.46 L349.22 390.98 L349.32 389.37 L349.43 387.77 L349.53 386.35 L349.63 385.25 L349.74 384.58 L349.84 384.43 L349.94 384.80 L350.04 385.66 L350.15 386.94 L350.25 388.51 L350.35 390.21 L350.46 391.88 L350.56 393.34 L350.66 394.46 L350.77 395.11 L350.87 395.22 L350.97 394.78 L351.08 393.83 L351.18 392.45 L351.28 390.79 L351.38 389.00 L351.49 387.27 L351.59 385.76 L351.69 384.63 L351.80 384.00 L351.90 383.94 L352.00 384.45 L352.11 385.49 L352.21 386.97 L352.31 388.73 L352.41 390.60 L352.52 392.40 L352.62 393.95 L352.72 395.08 L352.83 395.68 L352.93 395.70 L353.03 395.11 L353.14 393.97 L353.24 392.40 L353.34 390.54 L353.44 388.59 L353.55 386.72 L353.65 385.15 L353.75 384.01 L353.86 383.43 L353.96 383.48 L354.06 384.14 L354.17 385.37 L354.27 387.05 L354.37 389.00 L354.47 391.04 L354.58 392.96 L354.68 394.57 L354.78 395.71 L354.89 396.25 L354.99 396.14 L355.09 395.39 L355.20 394.07 L355.30 392.29 L355.40 390.25 L355.51 388.13 L355.61 386.15 L355.71 384.51 L355.81 383.38 L355.92 382.87 L356.02 383.04 L356.12 383.88 L356.23 385.30 L356.33 387.18 L356.43 389.32 L356.54 391.52 L356.64 393.55 L356.74 395.21 L356.84 396.33 L356.95 396.80 L357.05 396.56 L357.15 395.64 L357.26 394.11 L357.36 392.14 L357.46 389.90 L357.57 387.63 L357.67 385.55 L357.77 383.87 L357.87 382.76 L357.98 382.33 L358.08 382.64 L358.18 383.63 L358.29 385.25 L358.39 387.34 L358.49 389.69 L358.60 392.06 L358.70 394.23 L358.80 395.97 L358.91 397.11 L359.01 397.52 L359.11 397.14 L359.21 396.02 L359.32 394.26 L359.42 392.01 L359.52 389.51 L359.63 387.00 L359.73 384.73 L359.83 382.93 L359.94 381.79 L360.04 381.43 L360.14 381.89 L360.24 383.14 L360.35 385.05 L360.45 387.46 L360.55 390.12 L360.66 392.76 L360.76 395.12 L360.86 396.97 L360.97 398.11 L361.07 398.43 L361.17 397.87 L361.27 396.49 L361.38 394.42 L361.48 391.85 L361.58 389.04 L361.69 386.27 L361.79 383.81 L361.89 381.92 L362.00 380.78 L362.10 380.53 L362.20 381.19 L362.30 382.70 L362.41 384.93 L362.51 387.66 L362.61 390.62 L362.72 393.52 L362.82 396.06 L362.92 397.99 L363.03 399.12 L363.13 399.31 L363.23 398.55 L363.34 396.89 L363.44 394.50 L363.54 391.61 L363.64 388.50 L363.75 385.48 L363.85 382.86 L363.95 380.89 L364.06 379.78 L364.16 379.66 L364.26 380.53 L364.37 382.33 L364.47 384.88 L364.57 387.94 L364.67 391.20 L364.78 394.33 L364.88 397.04 L364.98 399.03 L365.09 400.11 L365.19 400.17 L365.29 399.17 L365.40 397.23 L365.50 394.52 L365.60 391.30 L365.70 387.89 L365.81 384.64 L365.91 381.86 L366.01 379.84 L366.12 378.79 L366.22 378.82 L366.32 379.93 L366.43 382.02 L366.53 384.90 L366.63 388.28 L366.73 391.83 L366.84 395.20 L366.94 398.04 L367.04 400.08 L367.15 401.10 L367.25 400.99 L367.35 399.75 L367.46 397.51 L367.56 394.46 L367.66 390.92 L367.77 387.23 L367.87 383.75 L367.97 380.84 L368.07 378.79 L368.18 377.81 L368.28 378.01 L368.38 379.37 L368.49 381.78 L368.59 384.99 L368.69 388.70 L368.80 392.51 L368.90 396.06 L369.00 398.99 L369.10 401.01 L369.21 401.91 L369.31 401.60 L369.41 400.11 L369.52 397.57 L369.62 394.25 L369.72 390.46 L369.83 386.58 L369.93 383.00 L370.03 380.07 L370.13 378.09 L370.24 377.25 L370.34 377.65 L370.44 379.25 L370.55 381.89 L370.65 385.31 L370.75 389.18 L370.86 393.12 L370.96 396.73 L371.06 399.66 L371.17 401.61 L371.27 402.38 L371.37 401.89 L371.47 400.19 L371.58 397.45 L371.68 393.92 L371.78 389.97 L371.89 385.97 L371.99 382.33 L372.09 379.41 L372.20 377.50 L372.30 376.80 L372.40 377.37 L372.50 379.17 L372.61 382.02 L372.71 385.65 L372.81 389.69 L372.92 393.74 L373.02 397.40 L373.12 400.32 L373.23 402.19 L373.33 402.82 L373.43 402.16 L373.53 400.26 L373.64 397.30 L373.74 393.58 L373.84 389.46 L373.95 385.35 L374.05 381.66 L374.15 378.76 L374.26 376.93 L374.36 376.36 L374.46 377.11 L374.56 379.12 L374.67 382.18 L374.77 386.00 L374.87 390.20 L374.98 394.36 L375.08 398.07 L375.18 400.97 L375.29 402.75 L375.39 403.25 L375.49 402.41 L375.60 400.30 L375.70 397.13 L375.80 393.22 L375.90 388.94 L376.01 384.73 L376.11 381.00 L376.21 378.11 L376.32 376.37 L376.42 375.94 L376.52 376.88 L376.63 379.09 L376.73 382.36 L376.83 386.37 L376.93 390.72 L377.04 394.98 L377.14 398.73 L377.24 401.60 L377.35 403.30 L377.45 403.66 L377.55 402.63 L377.66 400.32 L377.76 396.95 L377.86 392.85 L377.96 388.42 L378.07 384.11 L378.17 380.34 L378.27 377.48 L378.38 375.83 L378.48 375.54 L378.58 376.66 L378.69 379.07 L378.79 382.55 L378.89 386.74 L378.99 391.24 L379.10 395.57 L379.20 399.31 L379.30 402.07 L379.41 403.60 L379.51 403.75 L379.61 402.51 L379.72 400.02 L379.82 396.52 L379.92 392.37 L380.03 387.97 L380.13 383.77 L380.23 380.18 L380.33 377.55 L380.44 376.12 L380.54 376.05 L380.64 377.32 L380.75 379.81 L380.85 383.26 L380.95 387.32 L381.06 391.60 L381.16 395.66 L381.26 399.12 L381.36 401.63 L381.47 402.94 L381.57 402.95 L381.67 401.65 L381.78 399.18 L381.88 395.79 L381.98 391.81 L382.09 387.65 L382.19 383.70 L382.29 380.37 L382.39 377.98 L382.50 376.76 L382.60 376.81 L382.70 378.14 L382.81 380.60 L382.91 383.94 L383.01 387.84 L383.12 391.89 L383.22 395.72 L383.32 398.92 L383.42 401.20 L383.53 402.34 L383.63 402.22 L383.73 400.87 L383.84 398.43 L383.94 395.14 L384.04 391.33 L384.15 387.38 L384.25 383.68 L384.35 380.59 L384.46 378.42 L384.56 377.37 L384.66 377.54 L384.76 378.91 L384.87 381.33 L384.97 384.56 L385.07 388.29 L385.18 392.13 L385.28 395.71 L385.38 398.68 L385.49 400.75 L385.59 401.71 L385.69 401.48 L385.79 400.08 L385.90 397.68 L386.00 394.51 L386.10 390.90 L386.21 387.20 L386.31 383.78 L386.41 380.97 L386.52 379.05 L386.62 378.19 L386.72 378.47 L386.82 379.85 L386.93 382.18 L387.03 385.24 L387.13 388.70 L387.24 392.23 L387.34 395.48 L387.44 398.13 L387.55 399.93 L387.65 400.71 L387.75 400.39 L387.86 399.02 L387.96 396.74 L388.06 393.80 L388.16 390.50 L388.27 387.18 L388.37 384.15 L388.47 381.71 L388.58 380.09 L388.68 379.44 L388.78 379.80 L388.89 381.13 L388.99 383.28 L389.09 386.02 L389.19 389.08 L389.30 392.15 L389.40 394.93 L389.50 397.16 L389.61 398.62 L389.71 399.18 L389.81 398.80 L389.92 397.54 L390.02 395.53 L390.12 392.98 L390.22 390.16 L390.33 387.34 L390.43 384.81 L390.53 382.83 L390.64 381.57 L390.74 381.14 L390.84 381.56 L390.95 382.76 L391.05 384.60 L391.15 386.89 L391.25 389.39 L391.36 391.84 L391.46 394.01 L391.56 395.70 L391.67 396.75 L391.77 397.08 L391.87 396.68 L391.98 395.61 L392.08 394.00 L392.18 392.03 L392.29 389.90 L392.39 387.82 L392.49 385.99 L392.59 384.59 L392.70 383.72 L392.80 383.46 L392.90 383.82 L393.01 384.74 L393.11 386.11 L393.21 387.78 L393.32 389.58 L393.42 391.32 L393.52 392.84 L393.62 394.00 L393.73 394.70 L393.83 394.88 L393.93 394.56 L394.04 393.78 L394.14 392.63 L394.24 391.25 L394.35 389.78 L394.45 388.36 L394.55 387.17 L394.65 386.38 L394.76 386.02 L394.86 386.06 L394.96 386.47 L395.07 387.14 L395.17 387.98 L395.27 388.86 L395.38 389.67 L395.48 390.32 L395.58 390.77 L395.68 390.98 L395.79 390.97 L395.89 391.22 L395.99 391.33 L396.10 391.24 L396.20 390.94 L396.30 390.42 L396.41 389.74 L396.51 388.93 L396.61 388.10 L396.72 387.33 L396.82 386.72 L396.92 386.37 L397.02 386.35 L397.13 386.68 L397.23 387.37 L397.33 388.38 L397.44 389.62 L397.54 390.98 L397.64 392.32 L397.75 393.50 L397.85 394.36 L397.95 394.81 L398.05 394.76 L398.16 394.19 L398.26 393.12 L398.36 391.62 L398.47 389.84 L398.57 387.93 L398.67 386.10 L398.78 384.52 L398.88 383.38 L398.98 382.82 L399.08 382.93 L399.19 383.72 L399.29 385.16 L399.39 387.13 L399.50 389.45 L399.60 391.92 L399.70 394.31 L399.81 396.38 L399.91 397.89 L400.01 398.65 L400.12 398.55 L400.22 397.54 L400.32 395.70 L400.42 393.15 L400.53 390.14 L400.63 386.93 L400.73 383.85 L400.84 381.21 L400.94 379.31 L401.04 378.36 L401.15 378.51 L401.25 379.78 L401.35 382.09 L401.45 385.26 L401.56 388.99 L401.66 392.94 L401.76 396.73 L401.87 399.96 L401.97 402.31 L402.07 403.49 L402.18 403.34 L402.28 401.84 L402.38 399.07 L402.48 395.28 L402.59 390.80 L402.69 386.06 L402.79 381.51 L402.90 377.62 L403.00 374.80 L403.10 373.36 L403.21 373.49 L403.31 375.22 L403.41 378.43 L403.51 382.85 L403.62 388.08 L403.72 393.62 L403.82 398.95 L403.93 403.53 L404.03 406.89 L404.13 408.66 L404.24 408.62 L404.34 406.71 L404.44 403.08 L404.55 398.03 L404.65 392.02 L404.75 385.61 L404.85 379.44 L404.96 374.10 L405.06 370.15 L405.16 368.02 L405.27 367.95 L405.37 370.01 L405.47 374.05 L405.58 379.72 L405.68 386.51 L405.78 393.77 L405.88 400.79 L405.99 406.89 L406.09 411.45 L406.19 413.99 L406.30 414.21 L406.40 412.05 L406.50 407.66 L406.61 401.44 L406.71 393.94 L406.81 385.88 L406.91 378.03 L407.02 371.16 L407.12 365.95 L407.22 362.95 L407.33 362.49 L407.43 364.67 L407.53 369.31 L407.64 376.03 L407.74 384.20 L407.84 393.05 L407.94 401.74 L408.05 409.42 L408.15 415.33 L408.25 418.86 L408.36 419.62 L408.46 417.50 L408.56 412.65 L408.67 405.50 L408.77 396.69 L408.87 387.06 L408.98 377.52 L409.08 369.00 L409.18 362.34 L409.28 358.22 L409.39 357.07 L409.49 359.06 L409.59 364.04 L409.70 371.57 L409.80 380.97 L409.90 391.37 L410.01 401.76 L410.11 411.15 L410.21 418.61 L410.31 423.40 L410.42 425.01 L410.52 423.24 L410.62 418.22 L410.73 410.37 L410.83 400.42 L410.93 389.29 L411.04 378.04 L411.14 367.75 L411.24 359.43 L411.34 353.92 L411.45 351.80 L411.55 353.30 L411.65 358.32 L411.76 366.39 L411.86 376.80 L411.96 388.56 L412.07 400.56 L412.17 411.64 L412.27 420.75 L412.38 426.98 L412.48 429.70 L412.58 428.62 L412.68 423.80 L412.79 415.67 L412.89 404.96 L412.99 392.68 L413.10 379.98 L413.20 368.08 L413.30 358.13 L413.41 351.09 L413.51 347.68 L413.61 348.25 L413.71 352.78 L413.82 360.89 L413.92 371.83 L414.02 384.59 L414.13 397.97 L414.23 410.68 L414.33 421.52 L414.44 429.43 L414.54 433.62 L414.64 433.66 L414.74 429.51 L414.85 421.52 L414.95 410.42 L415.05 397.24 L415.16 383.22 L415.26 369.68 L415.36 357.92 L415.47 349.08 L415.57 344.03 L415.67 343.28 L415.77 346.95 L415.88 354.73 L415.98 365.89 L416.08 379.42 L416.19 394.05 L416.29 408.39 L416.39 421.07 L416.50 430.88 L416.60 436.86 L416.70 438.41 L416.81 435.35 L416.91 427.92 L417.01 416.80 L417.11 403.02 L417.22 387.85 L417.32 372.74 L417.42 359.10 L417.53 348.27 L417.63 341.27 L417.73 338.81 L417.84 341.15 L417.94 348.12 L418.04 359.08 L418.14 373.04 L418.25 388.68 L418.35 404.55 L418.45 419.13 L418.56 431.05 L418.66 439.14 L418.76 442.61 L418.87 441.11 L418.97 434.72 L419.07 424.03 L419.17 410.01 L419.28 393.96 L419.38 377.38 L419.48 361.84 L419.59 348.82 L419.69 339.56 L419.79 334.97 L419.90 335.52 L420.00 341.19 L420.10 351.49 L420.20 365.48 L420.31 381.84 L420.41 399.03 L420.51 415.45 L420.62 429.54 L420.72 439.95 L420.82 445.69 L420.93 446.19 L421.03 441.38 L421.13 431.66 L421.24 417.94 L421.34 401.48 L421.44 383.81 L421.54 366.60 L421.65 351.46 L421.75 339.83 L421.85 332.83 L421.96 331.13 L422.06 334.94 L422.16 343.91 L422.27 357.24 L422.37 373.70 L422.47 391.75 L422.57 409.71 L422.68 425.89 L422.78 438.77 L422.88 447.11 L422.99 450.10 L423.09 447.44 L423.19 439.35 L423.30 426.55 L423.40 410.23 L423.50 391.89 L423.60 373.25 L423.71 356.04 L423.81 341.90 L423.91 332.16 L424.02 327.77 L424.12 329.15 L424.22 336.21 L424.33 348.32 L424.43 364.37 L424.53 382.88 L424.63 402.11 L424.74 420.26 L424.84 435.64 L424.94 446.80 L425.05 452.66 L425.15 452.66 L425.25 446.78 L425.36 435.54 L425.46 419.96 L425.56 401.49 L425.67 381.83 L425.77 362.82 L425.87 346.24 L425.97 333.64 L426.08 326.22 L426.18 324.69 L426.28 329.22 L426.39 339.41 L426.49 354.34 L426.59 372.63 L426.70 392.59 L426.80 412.37 L426.90 430.12 L427.00 444.18 L427.11 453.23 L427.21 456.40 L427.31 453.36 L427.42 444.39 L427.52 430.28 L427.62 412.34 L427.73 392.21 L427.83 371.77 L427.93 352.90 L428.03 337.38 L428.14 326.66 L428.24 321.76 L428.34 323.15 L428.45 330.74 L428.55 343.84 L428.65 361.25 L428.76 381.38 L428.86 402.37 L428.96 422.23 L429.07 439.12 L429.17 451.47 L429.27 458.12 L429.37 458.44 L429.48 452.39 L429.58 440.51 L429.68 423.89 L429.79 404.07 L429.89 382.87 L429.99 362.25 L430.10 344.13 L430.20 330.18 L430.30 321.71 L430.40 319.52 L430.51 323.81 L430.61 334.22 L430.71 349.78 L430.82 369.07 L430.92 390.31 L431.02 411.54 L431.13 430.81 L431.23 446.32 L431.33 456.63 L431.43 460.78 L431.54 458.37 L431.64 449.62 L431.74 435.31 L431.85 416.75 L431.95 395.66 L432.05 373.97 L432.16 353.68 L432.26 336.66 L432.36 324.51 L432.46 318.33 L432.57 318.73 L432.67 325.67 L432.77 338.53 L432.88 356.14 L432.98 376.88 L433.08 398.85 L433.19 420.02 L433.29 438.41 L433.39 452.33 L433.50 460.50 L433.60 462.16 L433.70 457.16 L433.80 445.94 L433.91 429.55 L434.01 409.49 L434.11 387.59 L434.22 365.87 L434.32 346.33 L434.42 330.76 L434.53 320.59 L434.63 316.76 L434.73 319.63 L434.83 328.93 L434.94 343.82 L435.04 362.92 L435.14 384.50 L435.25 406.56 L435.35 427.10 L435.45 444.21 L435.56 456.34 L435.66 462.37 L435.76 461.74 L435.86 454.51 L435.97 441.34 L436.07 423.42 L436.17 402.41 L436.28 380.22 L436.38 358.88 L436.48 340.35 L436.59 326.32 L436.69 318.09 L436.79 316.40 L436.89 321.42 L437.00 332.68 L437.10 349.17 L437.20 369.38 L437.31 391.45 L437.41 413.38 L437.51 433.15 L437.62 448.92 L437.72 459.26 L437.82 463.25 L437.93 460.52 L438.03 451.34 L438.13 436.54 L438.23 417.48 L438.34 395.91 L438.44 373.79 L438.54 353.15 L438.65 335.85 L438.75 323.49 L438.85 317.16 L438.96 317.45 L439.06 324.32 L439.16 337.14 L439.26 354.73 L439.37 375.49 L439.47 397.52 L439.57 418.82 L439.68 437.44 L439.78 451.71 L439.88 460.32 L439.99 462.50 L440.09 458.05 L440.19 447.39 L440.29 431.50 L440.40 411.82 L440.50 390.15 L440.60 368.46 L440.71 348.73 L440.81 332.73 L440.91 321.93 L441.02 317.34 L441.12 319.37 L441.22 327.78 L441.33 341.77 L441.43 360.05 L441.53 380.97 L441.63 402.60 L441.74 422.98 L441.84 440.27 L441.94 452.93 L442.05 459.80 L442.15 460.31 L442.25 454.41 L442.36 442.68 L442.46 426.19 L442.56 406.46 L442.66 385.28 L442.77 364.57 L442.87 346.22 L442.97 331.87 L443.08 322.80 L443.18 319.81 L443.28 323.16 L443.39 332.51 L443.49 347.00 L443.59 365.30 L443.69 385.73 L443.80 406.45 L443.90 425.58 L444.00 441.40 L444.11 452.49 L444.21 457.86 L444.31 457.06 L444.42 450.18 L444.52 437.86 L444.62 421.24 L444.72 401.84 L444.83 381.41 L444.93 361.81 L445.03 344.80 L445.14 331.90 L445.24 324.26 L445.34 322.56 L445.45 326.95 L445.55 337.01 L445.65 351.75 L445.76 369.82 L445.86 389.56 L445.96 409.19 L446.06 426.94 L446.17 441.23 L446.27 450.79 L446.37 454.79 L446.48 452.92 L446.58 445.37 L446.68 432.86 L446.79 416.56 L446.89 397.94 L446.99 378.71 L447.09 360.59 L447.20 345.21 L447.30 333.92 L447.40 327.72 L447.51 327.13 L447.61 332.16 L447.71 342.32 L447.82 356.67 L447.92 373.88 L448.02 392.40 L448.12 410.55 L448.23 426.71 L448.33 439.44 L448.43 447.62 L448.54 450.55 L448.64 448.00 L448.74 440.25 L448.85 428.01 L448.95 412.43 L449.05 394.92 L449.15 377.07 L449.26 360.47 L449.36 346.61 L449.46 336.70 L449.57 331.61 L449.67 331.76 L449.77 337.09 L449.88 347.10 L449.98 360.85 L450.08 377.07 L450.19 394.30 L450.29 410.98 L450.39 425.63 L450.49 436.96 L450.60 443.97 L450.70 446.07 L450.80 443.12 L450.91 435.42 L451.01 423.70 L451.11 409.04 L451.22 392.76 L451.32 376.35 L451.42 361.26 L451.52 348.83 L451.63 340.15 L451.73 335.96 L451.83 336.61 L451.94 341.98 L452.04 351.57 L452.14 364.47 L452.25 379.52 L452.35 395.35 L452.45 410.54 L452.55 423.74 L452.66 433.80 L452.76 439.85 L452.86 441.37 L452.97 438.28 L453.07 430.89 L453.17 419.89 L453.28 406.31 L453.38 391.36 L453.48 376.40 L453.59 362.76 L453.69 351.63 L453.79 343.99 L453.89 340.48 L454.00 341.39 L454.10 346.58 L454.20 355.55 L454.31 367.47 L454.41 381.27 L454.51 395.71 L454.62 409.51 L454.72 421.43 L454.82 430.45 L454.92 435.77 L455.03 436.95 L455.13 433.93 L455.23 427.01 L455.34 416.83 L455.44 404.32 L455.54 390.61 L455.65 376.93 L455.75 364.50 L455.85 354.41 L455.95 347.53 L456.06 344.45 L456.16 345.40 L456.26 350.28 L456.37 358.61 L456.47 369.63 L456.57 382.34 L456.68 395.59 L456.78 408.20 L456.88 419.07 L456.98 427.25 L457.09 432.02 L457.19 433.01 L457.29 430.16 L457.40 423.75 L457.50 414.38 L457.60 402.91 L457.71 390.37 L457.81 377.88 L457.91 366.55 L458.02 357.37 L458.12 351.13 L458.22 348.35 L458.32 349.26 L458.43 353.73 L458.53 361.35 L458.63 371.39 L458.74 382.96 L458.84 395.03 L458.94 406.53 L459.05 416.45 L459.15 423.92 L459.25 428.31 L459.35 429.25 L459.46 426.69 L459.56 420.87 L459.66 412.35 L459.77 401.90 L459.87 390.46 L459.97 379.05 L460.08 368.68 L460.18 360.25 L460.28 354.50 L460.38 351.91 L460.49 352.68 L460.59 356.72 L460.69 363.64 L460.80 372.80 L460.90 383.38 L461.00 394.42 L461.11 404.94 L461.21 414.03 L461.31 420.88 L461.41 424.91 L461.52 425.80 L461.62 423.48 L461.72 418.20 L461.83 410.45 L461.93 400.93 L462.03 390.51 L462.14 380.12 L462.24 370.67 L462.34 362.99 L462.45 357.74 L462.55 355.37 L462.65 356.06 L462.75 359.71 L462.86 365.98 L462.96 374.29 L463.06 383.87 L463.17 393.90 L463.27 403.48 L463.37 411.76 L463.48 418.02 L463.58 421.73 L463.68 422.57 L463.78 420.49 L463.89 415.71 L463.99 408.67 L464.09 400.00 L464.20 390.50 L464.30 381.00 L464.40 372.35 L464.51 365.31 L464.61 360.49 L464.71 358.29 L464.81 358.89 L464.92 362.22 L465.02 367.94 L465.12 375.55 L465.23 384.34 L465.33 393.53 L465.43 402.30 L465.54 409.88 L465.64 415.60 L465.74 418.99 L465.84 419.75 L465.95 417.84 L466.05 413.47 L466.15 407.02 L466.26 399.11 L466.36 390.43 L466.46 381.76 L466.57 373.88 L466.67 367.47 L466.77 363.09 L466.88 361.10 L466.98 361.66 L467.08 364.70 L467.18 369.93 L467.29 376.85 L467.39 384.85 L467.49 393.20 L467.60 401.17 L467.70 408.06 L467.80 413.25 L467.91 416.32 L468.01 417.00 L468.11 415.25 L468.21 411.26 L468.32 405.40 L468.42 398.20 L468.52 390.31 L468.63 382.45 L468.73 375.30 L468.83 369.49 L468.94 365.52 L469.04 363.74 L469.14 364.27 L469.24 367.05 L469.35 371.81 L469.45 378.10 L469.55 385.36 L469.66 392.94 L469.76 400.15 L469.86 406.37 L469.97 411.05 L470.07 413.79 L470.17 414.37 L470.28 412.76 L470.38 409.13 L470.48 403.81 L470.58 397.29 L470.69 390.17 L470.79 383.08 L470.89 376.65 L471.00 371.44 L471.10 367.91 L471.20 366.34 L471.31 366.86 L471.41 369.39 L471.51 373.70 L471.61 379.37 L471.72 385.91 L471.82 392.71 L471.92 399.18 L472.03 404.76 L472.13 408.96 L472.23 411.42 L472.34 411.93 L472.44 410.46 L472.54 407.17 L472.64 402.35 L472.75 396.46 L472.85 390.01 L472.95 383.60 L473.06 377.78 L473.16 373.08 L473.26 369.88 L473.37 368.48 L473.47 368.97 L473.57 371.29 L473.67 375.22 L473.78 380.40 L473.88 386.36 L473.98 392.56 L474.09 398.45 L474.19 403.51 L474.29 407.30 L474.40 409.49 L474.50 409.91 L474.60 408.53 L474.71 405.49 L474.81 401.08 L474.91 395.71 L475.01 389.85 L475.12 384.04 L475.22 378.78 L475.32 374.55 L475.43 371.70 L475.53 370.47 L475.63 370.97 L475.74 373.11 L475.84 376.71 L475.94 381.43 L476.04 386.83 L476.15 392.43 L476.25 397.73 L476.35 402.26 L476.46 405.64 L476.56 407.56 L476.66 407.88 L476.77 406.59 L476.87 403.81 L476.97 399.81 L477.07 394.95 L477.18 389.68 L477.28 384.47 L477.38 379.78 L477.49 376.02 L477.59 373.51 L477.69 372.47 L477.80 372.97 L477.90 374.94 L478.00 378.21 L478.10 382.45 L478.21 387.29 L478.31 392.29 L478.41 397.00 L478.52 401.01 L478.62 403.97 L478.72 405.63 L478.83 405.86 L478.93 404.66 L479.03 402.20 L479.14 398.63 L479.24 394.27 L479.34 389.52 L479.44 384.79 L479.55 380.51 L479.65 377.06 L479.75 374.74 L479.86 373.76 L479.96 374.20 L480.06 376.02 L480.17 379.06 L480.27 383.03 L480.37 387.60 L480.47 392.33 L480.58 396.83 L480.68 400.67 L480.78 403.54 L480.89 405.16 L480.99 405.40 L481.09 404.24 L481.20 401.79 L481.30 398.27 L481.40 393.99 L481.50 389.34 L481.61 384.73 L481.71 380.57 L481.81 377.24 L481.92 375.03 L482.02 374.12 L482.12 374.61 L482.23 376.44 L482.33 379.45 L482.43 383.37 L482.54 387.84 L482.64 392.47 L482.74 396.84 L482.84 400.56 L482.95 403.31 L483.05 404.83 L483.15 405.01 L483.26 403.82 L483.36 401.37 L483.46 397.89 L483.57 393.69 L483.67 389.14 L483.77 384.65 L483.87 380.62 L483.98 377.41 L484.08 375.31 L484.18 374.49 L484.29 375.03 L484.39 376.88 L484.49 379.86 L484.60 383.72 L484.70 388.10 L484.80 392.62 L484.90 396.86 L485.01 400.45 L485.11 403.08 L485.21 404.51 L485.32 404.61 L485.42 403.38 L485.52 400.94 L485.63 397.50 L485.73 393.37 L485.83 388.92 L485.93 384.55 L486.04 380.66 L486.14 377.58 L486.24 375.58 L486.35 374.85 L486.45 375.45 L486.55 377.32 L486.66 380.29 L486.76 384.09 L486.86 388.38 L486.97 392.78 L487.07 396.89 L487.17 400.36 L487.27 402.86 L487.38 404.18 L487.48 404.21 L487.58 402.94 L487.69 400.50 L487.79 397.09 L487.89 393.04 L488.00 388.69 L488.10 384.45 L488.20 380.68 L488.30 377.73 L488.41 375.86 L488.51 375.22 L488.61 375.88 L488.72 377.77 L488.82 380.72 L488.92 384.47 L489.03 388.67 L489.13 392.95 L489.23 396.94 L489.33 400.27 L489.44 402.64 L489.54 403.86 L489.64 403.81 L489.75 402.50 L489.85 400.04 L489.95 396.68 L490.06 392.69 L490.16 388.45 L490.26 384.34 L490.36 380.71 L490.47 377.89 L490.57 376.13 L490.67 375.59 L490.78 376.32 L490.88 378.23 L490.98 381.17 L491.09 384.86 L491.19 388.97 L491.29 393.14 L491.40 396.99 L491.50 400.18 L491.60 402.42 L491.70 403.53 L491.81 403.39 L491.91 402.04 L492.01 399.58 L492.12 396.25 L492.22 392.34 L492.32 388.20 L492.43 384.21 L492.53 380.72 L492.63 378.04 L492.73 376.41 L492.84 375.97 L492.94 376.76 L493.04 378.70 L493.15 381.62 L493.25 385.26 L493.35 389.28 L493.46 393.34 L493.56 397.09 L493.66 400.17 L493.76 402.33 L493.87 403.36 L493.97 403.17 L494.07 401.77 L494.18 399.28 L494.28 395.94 L494.38 392.03 L494.49 387.90 L494.59 383.94 L494.69 380.48 L494.80 377.84 L494.90 376.26 L495.00 375.88 L495.10 376.74 L495.21 378.76 L495.31 381.76 L495.41 385.48 L495.52 389.59 L495.62 393.71 L495.72 397.48 L495.83 400.56 L495.93 402.67 L496.03 403.62 L496.13 403.32 L496.24 401.81 L496.34 399.20 L496.44 395.74 L496.55 391.74 L496.65 387.54 L496.75 383.54 L496.86 380.07 L496.96 377.47 L497.06 375.96 L497.16 375.67 L497.27 376.65 L497.37 378.79 L497.47 381.92 L497.58 385.75 L497.68 389.94 L497.78 394.11 L497.89 397.90 L497.99 400.95 L498.09 403.01 L498.19 403.87 L498.30 403.46 L498.40 401.82 L498.50 399.09 L498.61 395.52 L498.71 391.41 L498.81 387.15 L498.92 383.11 L499.02 379.65 L499.12 377.09 L499.23 375.66 L499.33 375.48 L499.43 376.58 L499.53 378.86 L499.64 382.11 L499.74 386.05 L499.84 390.32 L499.95 394.54 L500.05 398.34 L500.15 401.36 L500.26 403.35 L500.36 404.11 L500.46 403.59 L500.56 401.81 L500.67 398.95 L500.77 395.25 L500.87 391.05 L500.98 386.72 L501.08 382.65 L501.18 379.21 L501.29 376.71 L501.39 375.36 L501.49 375.30 L501.59 376.53 L501.70 378.95 L501.80 382.33 L501.90 386.38 L502.01 390.74 L502.11 395.00 L502.21 398.80 L502.32 401.79 L502.42 403.69 L502.52 404.35 L502.62 403.69 L502.73 401.77 L502.83 398.77 L502.93 394.95 L503.04 390.65 L503.14 386.26 L503.24 382.17 L503.35 378.76 L503.45 376.31 L503.55 375.07 L503.66 375.14 L503.76 376.52 L503.86 379.09 L503.96 382.62 L504.07 386.77 L504.17 391.17 L504.27 395.43 L504.38 399.15 L504.48 402.02 L504.58 403.78 L504.69 404.27 L504.79 403.45 L504.89 401.41 L504.99 398.32 L505.10 394.47 L505.20 390.21 L505.30 385.92 L505.41 381.98 L505.51 378.74 L505.61 376.50 L505.72 375.44 L505.82 375.67 L505.92 377.15 L506.02 379.75 L506.13 383.23 L506.23 387.28 L506.33 391.53 L506.44 395.61 L506.54 399.14 L506.64 401.81 L506.75 403.39 L506.85 403.74 L506.95 402.83 L507.05 400.75 L507.16 397.69 L507.26 393.92 L507.36 389.79 L507.47 385.66 L507.57 381.91 L507.67 378.87 L507.78 376.81 L507.88 375.91 L507.98 376.25 L508.09 377.79 L508.19 380.40 L508.29 383.82 L508.39 387.76 L508.50 391.86 L508.60 395.75 L508.70 399.09 L508.81 401.57 L508.91 402.98 L509.01 403.20 L509.12 402.21 L509.22 400.10 L509.32 397.07 L509.42 393.39 L509.53 389.39 L509.63 385.44 L509.73 381.88 L509.84 379.03 L509.94 377.15 L510.04 376.40 L510.15 376.84 L510.25 378.43 L510.35 381.03 L510.45 384.39 L510.56 388.21 L510.66 392.16 L510.76 395.87 L510.87 399.01 L510.97 401.31 L511.07 402.56 L511.18 402.65 L511.28 401.59 L511.38 399.46 L511.49 396.47 L511.59 392.89 L511.69 389.03 L511.79 385.24 L511.90 381.87 L512.00 379.22 L512.10 377.51 L512.21 376.90 L512.31 377.43 L512.41 379.07 L512.52 381.65 L512.62 384.94 L512.72 388.64 L512.82 392.42 L512.93 395.95 L513.03 398.90 L513.13 401.02 L513.24 402.12 L513.34 402.10 L513.44 400.97 L513.55 398.84 L513.65 395.89 L513.75 392.41 L513.85 388.69 L513.96 385.08 L514.06 381.90 L514.16 379.43 L514.27 377.88 L514.37 377.41 L514.47 378.04 L514.58 379.71 L514.68 382.26 L514.78 385.47 L514.88 389.04 L514.99 392.65 L515.09 395.98 L515.19 398.73 L515.30 400.65 L515.40 401.59 L515.50 401.46 L515.61 400.28 L515.71 398.16 L515.81 395.29 L515.92 391.94 L516.02 388.40 L516.12 385.00 L516.22 382.04 L516.33 379.77 L516.43 378.41 L516.53 378.06 L516.64 378.76 L516.74 380.43 L516.84 382.93 L516.95 386.01 L517.05 389.41 L517.15 392.81 L517.25 395.92 L517.36 398.46 L517.46 400.20 L517.56 400.99 L517.67 400.77 L517.77 399.55 L517.87 397.47 L517.98 394.70 L518.08 391.49 L518.18 388.15 L518.28 384.96 L518.39 382.21 L518.49 380.15 L518.59 378.96 L518.70 378.73 L518.80 379.48 L518.90 381.14 L519.01 383.56 L519.11 386.52 L519.21 389.74 L519.31 392.94 L519.42 395.84 L519.52 398.16 L519.62 399.72 L519.73 400.37 L519.83 400.07 L519.93 398.84 L520.04 396.80 L520.14 394.13 L520.24 391.09 L520.35 387.94 L520.45 384.96 L520.55 382.43 L520.65 380.56 L520.76 379.52 L520.86 379.39 L520.96 380.19 L521.07 381.84 L521.17 384.18 L521.27 386.99 L521.38 390.04 L521.48 393.03 L521.58 395.71 L521.68 397.84 L521.79 399.22 L521.89 399.75 L521.99 399.37 L522.10 398.13 L522.20 396.15 L522.30 393.60 L522.41 390.72 L522.51 387.76 L522.61 385.00 L522.71 382.67 L522.82 380.99 L522.92 380.10 L523.02 380.07 L523.13 380.90 L523.23 382.51 L523.33 384.76 L523.44 387.43 L523.54 390.29 L523.64 393.08 L523.75 395.55 L523.85 397.48 L523.95 398.70 L524.05 399.11 L524.16 398.67 L524.26 397.44 L524.36 395.52 L524.47 393.09 L524.57 390.38 L524.67 387.62 L524.78 385.07 L524.88 382.95 L524.98 381.45 L525.08 380.69 L525.19 380.75 L525.29 381.61 L525.39 383.18 L525.50 385.32 L525.60 387.84 L525.70 390.51 L525.81 393.09 L525.91 395.34 L526.01 397.07 L526.11 398.14 L526.22 398.44 L526.32 397.95 L526.42 396.74 L526.53 394.90 L526.63 392.61 L526.73 390.08 L526.84 387.54 L526.94 385.20 L527.04 383.29 L527.14 381.97 L527.25 381.34 L527.35 381.47 L527.45 382.33 L527.56 383.85 L527.66 385.87 L527.76 388.22 L527.87 390.69 L527.97 393.04 L528.07 395.08 L528.18 396.63 L528.28 397.54 L528.38 397.74 L528.48 397.23 L528.59 396.04 L528.69 394.30 L528.79 392.16 L528.90 389.82 L529.00 387.49 L529.10 385.37 L529.21 383.66 L529.31 382.50 L529.41 382.00 L529.51 382.19 L529.62 383.04 L529.72 384.49 L529.82 386.38 L529.93 388.56 L530.03 390.82 L530.13 392.96 L530.24 394.79 L530.34 396.15 L530.44 396.92 L530.54 397.04 L530.65 396.51 L530.75 395.37 L530.85 393.73 L530.96 391.75 L531.06 389.60 L531.16 387.48 L531.27 385.58 L531.37 384.06 L531.47 383.06 L531.57 382.67 L531.68 382.90 L531.78 383.74 L531.88 385.10 L531.99 386.87 L532.09 388.86 L532.19 390.92 L532.30 392.84 L532.40 394.47 L532.50 395.65 L532.61 396.30 L532.71 396.34 L532.81 395.80 L532.91 394.71 L533.02 393.19 L533.12 391.37 L533.22 389.42 L533.33 387.51 L533.43 385.82 L533.53 384.49 L533.64 383.64 L533.74 383.34 L533.84 383.61 L533.94 384.42 L534.05 385.70 L534.15 387.31 L534.25 389.13 L534.36 390.97 L534.46 392.68 L534.56 394.11 L534.67 395.13 L534.77 395.65 L534.87 395.64 L534.97 395.10 L535.08 394.08 L535.18 392.68 L535.28 391.03 L535.39 389.28 L535.49 387.59 L535.59 386.10 L535.70 384.95 L535.80 384.23 L535.90 384.01 L536.01 384.30 L536.11 385.07 L536.21 386.24 L536.31 387.71 L536.42 389.35 L536.52 391.00 L536.62 392.51 L536.73 393.76 L536.83 394.63 L536.93 395.06 L537.04 395.00 L537.14 394.47 L537.24 393.52 L537.34 392.24 L537.45 390.74 L537.55 389.17 L537.65 387.66 L537.76 386.36 L537.86 385.36 L537.96 384.76 L538.07 384.61 L538.17 384.92 L538.27 385.65 L538.37 386.73 L538.48 388.06 L538.58 389.53 L538.68 390.99 L538.79 392.32 L538.89 393.41 L538.99 394.14 L539.10 394.48 L539.20 394.38 L539.30 393.87 L539.40 392.99 L539.51 391.83 L539.61 390.49 L539.71 389.10 L539.82 387.78 L539.92 386.64 L540.02 385.80 L540.13 385.31 L540.23 385.22 L540.33 385.53 L540.44 386.21 L540.54 387.19 L540.64 388.38 L540.74 389.68 L540.85 390.96 L540.95 392.11 L541.05 393.03 L541.16 393.64 L541.26 393.89 L541.36 393.76 L541.47 393.28 L541.57 392.48 L541.67 391.45 L541.77 390.27 L541.88 389.06 L541.98 387.92 L542.08 386.96 L542.19 386.26 L542.29 385.87 L542.39 385.83 L542.50 386.14 L542.60 386.76 L542.70 387.63 L542.80 388.67 L542.91 389.79 L543.01 390.88 L543.11 391.86 L543.22 392.62 L543.32 393.11 L543.42 393.29 L543.53 393.15 L543.63 392.71 L543.73 392.00 L543.83 391.10 L543.94 390.09 L544.04 389.06 L544.14 388.10 L544.25 387.31 L544.35 386.74 L544.45 386.44 L544.56 386.44 L544.66 386.73 L544.76 387.28 L544.87 388.03 L544.97 388.92 L545.07 389.87 L545.17 390.78 L545.28 391.58 L545.38 392.19 L545.48 392.58 L545.59 392.70 L545.69 392.55 L545.79 392.15 L545.90 391.54 L546.00 390.78 L546.10 389.94 L546.20 389.08 L546.31 388.30 L546.41 387.65 L546.51 387.19 L546.62 386.96 L546.72 386.98 L546.82 387.24 L546.93 387.72 L547.03 388.36 L547.13 389.12 L547.23 389.92 L547.34 390.68 L547.44 391.35 L547.54 391.86 L547.65 392.17 L547.75 392.26 L547.85 392.11 L547.96 391.75 L548.06 391.22 L548.16 390.56 L548.26 389.83 L548.37 389.10 L548.47 388.44 L548.57 387.90 L548.68 387.53 L548.78 387.36 L548.88 387.40 L548.99 387.64 L549.09 388.07 L549.19 388.63 L549.30 389.27 L549.40 389.95 L549.50 390.59 L549.60 391.14 L549.71 391.55 L549.81 391.79 L549.91 391.84 L550.02 391.70 L550.12 391.38 L550.22 390.92 L550.33 390.36 L550.43 389.75 L550.53 389.15 L550.63 388.61 L550.74 388.17 L550.84 387.88 L550.94 387.76 L551.05 387.82 L551.15 388.04 L551.25 388.40 L551.36 388.87 L551.46 389.41 L551.56 389.96 L551.66 390.47 L551.77 390.91 L551.87 391.23 L551.97 391.40 L552.08 391.42 L552.18 391.29 L552.28 391.02 L552.39 390.64 L552.49 390.18 L552.59 389.69 L552.70 389.22 L552.80 388.79 L552.90 388.46 L553.00 388.25 L553.11 388.17 L553.21 388.23 L553.31 388.42 L553.42 388.72 L553.52 389.09 L553.62 389.51 L553.73 389.94 L553.83 390.33 L553.93 390.66 L554.03 390.89 L554.14 391.01 L554.24 391.01 L554.34 390.89 L554.45 390.67 L554.55 390.37 L554.65 390.03 L554.76 389.66 L554.86 389.31 L554.96 389.00 L555.06 388.77 L555.17 388.63 L555.27 388.58 L555.37 388.64 L555.48 388.79 L555.58 389.02 L555.68 389.29 L555.79 389.60 L555.89 389.90 L555.99 390.17 L556.09 390.39 L556.20 390.54 L556.30 390.61 L556.40 390.59 L556.51 390.51 L556.61 390.36 L556.71 390.15 L556.82 389.90 L556.92 389.65 L557.02 389.40 L557.13 389.18 L557.23 389.02 L557.33 388.91 L557.43 388.88 L557.54 388.93 L557.64 389.04 L557.74 389.21 L557.85 389.41 L557.95 389.64 L558.05 389.87 L558.16 390.08 L558.26 390.25 L558.36 390.37 L558.46 390.43 L558.57 390.42 L558.67 390.34 L558.77 390.21 L558.88 390.04 L558.98 389.84 L559.08 389.64 L559.19 389.44 L559.29 389.27 L559.39 389.15 L559.49 389.07 L559.60 389.06 L559.70 389.10 L559.80 389.19 L559.91 389.33 L560.01 389.49 L560.11 389.67 L560.22 389.85 L560.32 390.01 L560.42 390.14 L560.52 390.22 L560.63 390.26 L560.73 390.25 L560.83 390.18 L560.94 390.08 L561.04 389.94 L561.14 389.79 L561.25 389.64 L561.35 389.49 L561.45 389.37 L561.56 389.28 L561.66 389.23 L561.76 389.23 L561.86 389.26 L561.97 389.34 L562.07 389.44 L562.17 389.56 L562.28 389.69 L562.38 389.82 L562.48 389.93 L562.59 390.02 L562.69 390.07 L562.79 390.09 L562.89 390.07 L563.00 390.03 L563.10 389.95 L563.20 389.86 L563.31 389.75 L563.41 389.65 L563.51 389.55 L563.62 389.48 L563.72 389.42 L563.82 389.40 L563.92 389.40 L564.03 389.43 L564.13 389.48 L564.23 389.55 L564.34 389.62 L564.44 389.70 L564.54 389.78 L564.65 389.84 L564.75 389.89 L564.85 389.91 L564.96 389.92 L565.06 389.91 L565.16 389.89 L565.26 389.84 L565.37 389.79 L565.47 389.73 L565.57 389.66 L565.68 389.60 L565.78 389.55 L565.88 389.52 L565.99 389.50 L566.09 389.50 L566.19 389.52 L566.29 389.55 L566.40 389.60 L566.50 389.65 L566.60 389.71 L566.71 389.76 L566.81 389.81 L566.91 389.85 L567.02 389.88 L567.12 389.88 L567.22 389.88 L567.32 389.85 L567.43 389.81 L567.53 389.77 L567.63 389.72 L567.74 389.66 L567.84 389.62 L567.94 389.58 L568.05 389.55 L568.15 389.54 L568.25 389.54 L568.35 389.55 L568.46 389.58 L568.56 389.62 L568.66 389.66 L568.77 389.71 L568.87 389.76 L568.97 389.80 L569.08 389.82 L569.18 389.84 L569.28 389.85 L569.39 389.84 L569.49 389.82 L569.59 389.79 L569.69 389.75 L569.80 389.71 L569.90 389.67 L570.00 389.63 L570.11 389.60 L570.21 389.58 L570.31 389.57 L570.42 389.58 L570.52 389.59 L570.62 389.61 L570.72 389.64 L570.83 389.68 L570.93 389.71 L571.03 389.75 L571.14 389.77 L571.24 389.79 L571.34 389.81 L571.45 389.81 L571.55 389.80 L571.65 389.78 L571.75 389.76 L571.86 389.73 L571.96 389.70 L572.06 389.67 L572.17 389.65 L572.27 389.63 L572.37 389.62 L572.48 389.61 L572.58 389.61 L572.68 389.62 L572.78 389.64 L572.89 389.66 L572.99 389.69 L573.09 389.71 L573.20 389.73 L573.30 389.75 L573.40 389.76 L573.51 389.77 L573.61 389.77 L573.71 389.76 L573.82 389.75 L573.92 389.74 L574.02 389.72 L574.12 389.70 L574.23 389.68 L574.33 389.67 L574.43 389.66 L574.54 389.65 L574.64 389.65 L574.74 389.65 L574.85 389.66 L574.95 389.67 L575.05 389.68 L575.15 389.69 L575.26 389.71 L575.36 389.72 L575.46 389.73 L575.57 389.73 L575.67 389.73 L575.77 389.73 L575.88 389.73 L575.98 389.72 L576.08 389.71 L576.18 389.71 L576.29 389.70 L576.39 389.69 L576.49 389.69 L576.60 389.69 L576.70 389.69 L576.80 389.69 L576.91 389.69 L577.01 389.69 L577.11 389.69 L577.22 389.70 L577.32 389.70 L577.42 389.70 L577.52 389.70 L577.63 389.70 L577.73 389.70 L577.83 389.70 L577.94 389.70 L578.04 389.70 L578.14 389.70 L578.25 389.70 L578.35 389.70 L578.45 389.70 L578.55 389.70 L578.66 389.70 L578.76 389.70 L578.86 389.70 L578.97 389.70 L579.07 389.70 L579.17 389.70 L579.28 389.70 L579.38 389.70 L579.48 389.70 L579.58 389.70 L579.69 389.70 L579.79 389.70 L579.89 389.70 L580.00 389.70 L580.10 389.70 L580.20 389.70 L580.31 389.70 L580.41 389.70 L580.51 389.70 L580.61 389.70 L580.72 389.70 L580.82 389.70 L580.92 389.70 L581.03 389.70 L581.13 389.70 L581.23 389.70 L581.34 389.70 L581.44 389.70 L581.54 389.70 L581.65 389.70 L581.75 389.70 L581.85 389.70 L581.95 389.70 L582.06 389.70 L582.16 389.70 L582.26 389.70 L582.37 389.70 L582.47 389.70 L582.57 389.70 L582.68 389.70 L582.78 389.70 L582.88 389.70 L582.98 389.70 L583.09 389.70 L583.19 389.70 L583.29 389.70 L583.40 389.70 L583.50 389.70 L583.60 389.70 L583.71 389.70 L583.81 389.70 L583.91 389.70 L584.01 389.70 L584.12 389.70 L584.22 389.70 L584.32 389.70 L584.43 389.70 L584.53 389.70 L584.63 389.70 L584.74 389.70 L584.84 389.70 L584.94 389.70 L585.04 389.70 L585.15 389.70 L585.25 389.70 L585.35 389.70 L585.46 389.70 L585.56 389.70 L585.66 389.70 L585.77 389.70 L585.87 389.70 L585.97 389.70 L586.08 389.70 L586.18 389.70 L586.28 389.70 L586.38 389.70 L586.49 389.70 L586.59 389.70 L586.69 389.70 L586.80 389.70 L586.90 389.70 L587.00 389.70 L587.11 389.70 L587.21 389.70 L587.31 389.70 L587.41 389.70 L587.52 389.70 L587.62 389.70 L587.72 389.70 L587.83 389.70 L587.93 389.70 L588.03 389.70 L588.14 389.70 L588.24 389.70 L588.34 389.70 L588.44 389.70 L588.55 389.70 L588.65 389.70 L588.75 389.70 L588.86 389.70 L588.96 389.70 L589.06 389.70 L589.17 389.70 L589.27 389.70 L589.37 389.70 L589.47 389.70 L589.58 389.70 L589.68 389.70 L589.78 389.70 L589.89 389.70 L589.99 389.70 L590.09 389.70 L590.20 389.70 L590.30 389.70 L590.40 389.70 L590.51 389.70 L590.61 389.70 L590.71 389.70 L590.81 389.70 L590.92 389.70 L591.02 389.70 L591.12 389.70 L591.23 389.70 L591.33 389.70 L591.43 389.70 L591.54 389.70 L591.64 389.70 L591.74 389.70 L591.84 389.70 L591.95 389.70 L592.05 389.70 L592.15 389.70 L592.26 389.70 L592.36 389.70 L592.46 389.70 L592.57 389.70 L592.67 389.70 L592.77 389.70 L592.87 389.70 L592.98 389.70 L593.08 389.70 L593.18 389.70 L593.29 389.70 L593.39 389.70 L593.49 389.70 L593.60 389.70 L593.70 389.70 L593.80 389.70 L593.91 389.70 L594.01 389.70 L594.11 389.70 L594.21 389.70 L594.32 389.70 L594.42 389.70 L594.52 389.70 L594.63 389.70 L594.73 389.70 L594.83 389.70 L594.94 389.70 L595.04 389.70 L595.14 389.70 L595.24 389.70 L595.35 389.70 L595.45 389.70 L595.55 389.70 L595.66 389.70 L595.76 389.70 L595.86 389.70 L595.97 389.70 L596.07 389.70 L596.17 389.70 L596.27 389.70 L596.38 389.70 L596.48 389.70 L596.58 389.70 L596.69 389.70 L596.79 389.70 L596.89 389.70 L597.00 389.70 L597.10 389.70 L597.20 389.70 L597.30 389.70" stroke="#43a381" stroke-width="0.65" fill="none" stroke-linejoin="round"/>
<path d="M438.2 316.4 L474.4 308.9 M438.7 462 L597.6 369.3" stroke="#111" stroke-width="0.9" fill="none"/>
<rect x="280.4" y="309" width="317.0" height="160.3" fill="none" stroke="#626262" stroke-width="1.4"/>
<path d="M597.4 309 V469.3" stroke="#222" stroke-width="1" fill="none"/>
<path d="M280.4 468.1 h-3.4 M280.4 456.9 h-3.4 M280.4 445.7 h-3.4 M280.4 434.5 h-7.8 M280.4 423.3 h-3.4 M280.4 412.1 h-3.4 M280.4 400.9 h-3.4 M280.4 389.7 h-7.8 M280.4 378.5 h-3.4 M280.4 367.3 h-3.4 M280.4 356.1 h-3.4 M280.4 344.9 h-7.8 M280.4 333.7 h-3.4 M280.4 322.5 h-3.4 M280.4 311.3 h-3.4 M280.4 469.3 v6.6 M300.2 469.3 v3.4 M320.0 469.3 v6.6 M339.8 469.3 v3.4 M359.6 469.3 v6.6 M379.5 469.3 v3.4 M399.3 469.3 v6.6 M419.1 469.3 v3.4 M438.9 469.3 v6.6 M458.7 469.3 v3.4 M478.5 469.3 v6.6 M498.3 469.3 v3.4 M518.1 469.3 v6.6 M538.0 469.3 v3.4 M557.8 469.3 v6.6 M577.6 469.3 v3.4 M597.4 469.3 v6.6" stroke="#161616" stroke-width="1" fill="none"/>
<text x="266.4" y="349.4" text-anchor="end">1</text>
<text x="266.4" y="394.2" text-anchor="end">0</text>
<text x="266.4" y="439.0" text-anchor="end"><tspan textLength="8.8" lengthAdjust="spacingAndGlyphs">−</tspan>1</text>
<text x="278.4" y="491.6" text-anchor="middle"><tspan textLength="8.8" lengthAdjust="spacingAndGlyphs">−</tspan>200</text>
<text x="319.5" y="491.6" text-anchor="middle"><tspan textLength="8.8" lengthAdjust="spacingAndGlyphs">−</tspan>150</text>
<text x="356.5" y="491.6" text-anchor="middle"><tspan textLength="8.8" lengthAdjust="spacingAndGlyphs">−</tspan>100</text>
<text x="397.7" y="491.6" text-anchor="middle"><tspan textLength="8.8" lengthAdjust="spacingAndGlyphs">−</tspan>50</text>
<text x="438.5" y="491.6" text-anchor="middle">0</text>
<text x="478.5" y="491.6" text-anchor="middle">50</text>
<text x="518.1" y="491.6" text-anchor="middle">100</text>
<text x="556.3" y="491.6" text-anchor="middle">150</text>
<text x="597.4" y="491.6" text-anchor="middle">200</text>
<text x="439.2" y="509.7" text-anchor="middle">Time (fs)</text>
<text x="224.9" y="314.55" font-size="19.2" font-weight="bold" fill="#000">d</text>
<text transform="translate(243.8 393) rotate(-90)" text-anchor="middle" letter-spacing="0.25">Re(<tspan font-family="'DejaVu Sans', sans-serif" font-style="italic" font-size="14.5">ℰ</tspan>(<tspan font-style="italic">t</tspan>)e<tspan font-size="8.5" dy="-5">i<tspan font-style="italic">ωt</tspan></tspan><tspan dy="5">)</tspan></text>
<rect x="474.4" y="308.9" width="123.2" height="59.9" fill="#fff"/>
<clipPath id="clipi"><rect x="474.4" y="308.9" width="123.2" height="59.9"/></clipPath>
<g clip-path="url(#clipi)">
<path d="M470.00 351.16 L470.21 348.24 L470.41 345.20 L470.62 342.07 L470.82 338.90 L471.03 335.73 L471.23 332.60 L471.44 329.56 L471.64 326.64 L471.85 323.89 L472.05 321.33 L472.25 319.01 L472.46 316.95 L472.67 315.19 L472.87 313.74 L473.07 312.63 L473.28 311.87 L473.49 311.47 L473.69 311.43 L473.89 311.76 L474.10 312.45 L474.31 313.49 L474.51 314.88 L474.72 316.58 L474.92 318.58 L475.12 320.85 L475.33 323.36 L475.54 326.08 L475.74 328.97 L475.94 331.99 L476.15 335.10 L476.36 338.26 L476.56 341.44 L476.76 344.58 L476.97 347.64 L477.18 350.59 L477.38 353.38 L477.58 355.97 L477.79 358.35 L478.00 360.46 L478.20 362.28 L478.40 363.79 L478.61 364.97 L478.81 365.81 L479.02 366.28 L479.22 366.39 L479.43 366.14 L479.63 365.52 L479.84 364.54 L480.04 363.23 L480.25 361.59 L480.45 359.65 L480.66 357.43 L480.87 354.96 L481.07 352.28 L481.27 349.42 L481.48 346.43 L481.69 343.33 L481.89 340.17 L482.09 337.00 L482.30 333.85 L482.50 330.77 L482.71 327.79 L482.91 324.97 L483.12 322.33 L483.32 319.91 L483.53 317.74 L483.73 315.86 L483.94 314.28 L484.14 313.03 L484.35 312.13 L484.55 311.58 L484.76 311.40 L484.96 311.58 L485.17 312.13 L485.37 313.03 L485.58 314.28 L485.78 315.86 L485.99 317.74 L486.19 319.91 L486.40 322.33 L486.60 324.97 L486.81 327.79 L487.01 330.77 L487.22 333.85 L487.42 337.00 L487.63 340.17 L487.83 343.33 L488.04 346.43 L488.24 349.42 L488.45 352.28 L488.65 354.96 L488.86 357.43 L489.06 359.65 L489.27 361.59 L489.47 363.23 L489.68 364.54 L489.88 365.52 L490.09 366.14 L490.29 366.39 L490.50 366.28 L490.70 365.81 L490.91 364.97 L491.11 363.79 L491.32 362.28 L491.52 360.46 L491.73 358.35 L491.93 355.97 L492.14 353.38 L492.34 350.59 L492.55 347.64 L492.75 344.58 L492.96 341.44 L493.16 338.26 L493.37 335.10 L493.57 331.99 L493.78 328.97 L493.98 326.08 L494.19 323.36 L494.39 320.85 L494.60 318.58 L494.80 316.58 L495.01 314.88 L495.21 313.49 L495.42 312.45 L495.62 311.76 L495.83 311.43 L496.03 311.47 L496.24 311.87 L496.44 312.63 L496.65 313.74 L496.85 315.19 L497.06 316.95 L497.26 319.01 L497.47 321.33 L497.67 323.89 L497.88 326.64 L498.08 329.56 L498.29 332.60 L498.49 335.73 L498.70 338.90 L498.90 342.07 L499.11 345.20 L499.31 348.24 L499.52 351.16 L499.72 353.91 L499.93 356.47 L500.13 358.79 L500.34 360.84 L500.54 362.61 L500.75 364.05 L500.95 365.16 L501.16 365.93 L501.36 366.33 L501.57 366.36 L501.77 366.03 L501.98 365.34 L502.18 364.29 L502.39 362.91 L502.59 361.21 L502.80 359.21 L503.00 356.94 L503.21 354.43 L503.41 351.71 L503.62 348.82 L503.82 345.81 L504.03 342.70 L504.23 339.53 L504.44 336.37 L504.64 333.23 L504.85 330.17 L505.05 327.23 L505.26 324.45 L505.46 321.85 L505.67 319.49 L505.87 317.39 L506.08 315.57 L506.28 314.06 L506.49 312.89 L506.69 312.06 L506.90 311.59 L507.10 311.48 L507.31 311.74 L507.51 312.36 L507.72 313.34 L507.92 314.65 L508.13 316.29 L508.33 318.23 L508.54 320.44 L508.74 322.90 L508.95 325.57 L509.15 328.42 L509.36 331.41 L509.56 334.49 L509.77 337.64 L509.97 340.80 L510.18 343.93 L510.38 346.99 L510.59 349.95 L510.79 352.76 L511.00 355.38 L511.20 357.78 L511.41 359.93 L511.61 361.79 L511.82 363.36 L512.02 364.59 L512.23 365.48 L512.43 366.02 L512.64 366.20 L512.84 366.01 L513.05 365.46 L513.25 364.56 L513.46 363.31 L513.66 361.74 L513.87 359.87 L514.07 357.72 L514.28 355.32 L514.48 352.70 L514.69 349.90 L514.89 346.95 L515.10 343.90 L515.30 340.78 L515.51 337.64 L515.71 334.52 L515.92 331.46 L516.12 328.50 L516.33 325.68 L516.53 323.03 L516.74 320.60 L516.94 318.42 L517.15 316.51 L517.35 314.90 L517.56 313.60 L517.76 312.65 L517.97 312.05 L518.17 311.80 L518.38 311.92 L518.58 312.40 L518.79 313.23 L518.99 314.40 L519.20 315.89 L519.40 317.70 L519.61 319.78 L519.81 322.11 L520.02 324.67 L520.22 327.42 L520.43 330.32 L520.63 333.33 L520.84 336.41 L521.04 339.52 L521.25 342.63 L521.45 345.68 L521.66 348.63 L521.86 351.46 L522.07 354.12 L522.27 356.57 L522.48 358.79 L522.68 360.73 L522.89 362.39 L523.09 363.73 L523.30 364.74 L523.50 365.41 L523.71 365.72 L523.91 365.67 L524.12 365.27 L524.32 364.51 L524.53 363.42 L524.73 362.00 L524.94 360.27 L525.14 358.26 L525.35 355.99 L525.55 353.50 L525.76 350.82 L525.96 347.97 L526.17 345.02 L526.37 341.98 L526.58 338.90 L526.78 335.83 L526.99 332.80 L527.19 329.85 L527.40 327.03 L527.60 324.36 L527.81 321.90 L528.01 319.66 L528.22 317.68 L528.42 315.99 L528.63 314.60 L528.83 313.54 L529.04 312.82 L529.24 312.44 L529.45 312.42 L529.65 312.75 L529.86 313.43 L530.06 314.44 L530.27 315.79 L530.47 317.44 L530.68 319.37 L530.88 321.56 L531.09 323.98 L531.29 326.60 L531.50 329.37 L531.70 332.27 L531.91 335.26 L532.11 338.29 L532.32 341.33 L532.52 344.33 L532.73 347.25 L532.93 350.06 L533.14 352.72 L533.34 355.19 L533.55 357.45 L533.75 359.45 L533.96 361.17 L534.16 362.60 L534.37 363.71 L534.57 364.49 L534.78 364.93 L534.98 365.01 L535.19 364.76 L535.39 364.15 L535.60 363.21 L535.80 361.95 L536.01 360.39 L536.21 358.53 L536.42 356.42 L536.62 354.08 L536.83 351.54 L537.03 348.83 L537.24 346.00 L537.44 343.07 L537.65 340.10 L537.85 337.11 L538.06 334.14 L538.26 331.25 L538.47 328.46 L538.67 325.81 L538.88 323.35 L539.08 321.09 L539.29 319.07 L539.49 317.32 L539.70 315.86 L539.90 314.71 L540.11 313.88 L540.31 313.38 L540.52 313.23 L540.72 313.42 L540.93 313.95 L541.13 314.81 L541.34 315.99 L541.54 317.47 L541.75 319.24 L541.95 321.26 L542.16 323.52 L542.36 325.98 L542.57 328.61 L542.77 331.37 L542.98 334.22 L543.18 337.14 L543.39 340.07 L543.59 342.99 L543.80 345.84 L544.00 348.60 L544.21 351.23 L544.41 353.68 L544.62 355.94 L544.82 357.96 L545.03 359.73 L545.23 361.22 L545.44 362.41 L545.64 363.28 L545.85 363.83 L546.05 364.05 L546.26 363.92 L546.46 363.47 L546.67 362.69 L546.87 361.59 L547.08 360.20 L547.28 358.52 L547.49 356.58 L547.69 354.41 L547.90 352.04 L548.10 349.50 L548.31 346.82 L548.51 344.04 L548.72 341.20 L548.92 338.33 L549.13 335.47 L549.33 332.66 L549.54 329.94 L549.74 327.35 L549.95 324.91 L550.15 322.67 L550.36 320.64 L550.56 318.86 L550.77 317.36 L550.97 316.14 L551.18 315.22 L551.38 314.63 L551.59 314.36 L551.79 314.41 L552.00 314.79 L552.20 315.49 L552.41 316.51 L552.61 317.81 L552.82 319.40 L553.02 321.25 L553.23 323.32 L553.43 325.60 L553.64 328.05 L553.84 330.64 L554.05 333.34 L554.25 336.10 L554.46 338.90 L554.66 341.69 L554.87 344.44 L555.07 347.11 L555.28 349.66 L555.48 352.07 L555.69 354.30 L555.89 356.31 L556.10 358.09 L556.30 359.61 L556.51 360.86 L556.71 361.80 L556.92 362.44 L557.12 362.77 L557.33 362.78 L557.53 362.46 L557.74 361.84 L557.94 360.91 L558.15 359.69 L558.35 358.20 L558.56 356.45 L558.76 354.47 L558.97 352.29 L559.17 349.94 L559.38 347.44 L559.58 344.84 L559.79 342.16 L559.99 339.44 L560.20 336.73 L560.40 334.05 L560.61 331.44 L560.81 328.93 L561.02 326.56 L561.22 324.37 L561.43 322.37 L561.63 320.59 L561.84 319.07 L562.04 317.81 L562.25 316.83 L562.45 316.16 L562.66 315.78 L562.86 315.72 L563.07 315.96 L563.27 316.51 L563.48 317.35 L563.68 318.48 L563.89 319.88 L564.09 321.53 L564.30 323.41 L564.50 325.49 L564.71 327.74 L564.91 330.13 L565.12 332.64 L565.32 335.22 L565.53 337.85 L565.73 340.48 L565.94 343.08 L566.14 345.63 L566.35 348.07 L566.55 350.39 L566.76 352.55 L566.96 354.52 L567.17 356.28 L567.37 357.80 L567.58 359.07 L567.78 360.07 L567.99 360.78 L568.19 361.19 L568.40 361.31 L568.60 361.13 L568.81 360.66 L569.01 359.90 L569.22 358.86 L569.42 357.55 L569.63 356.00 L569.83 354.23 L570.04 352.26 L570.24 350.12 L570.45 347.83 L570.65 345.43 L570.86 342.95 L571.06 340.42 L571.27 337.88 L571.47 335.37 L571.68 332.90 L571.88 330.52 L572.09 328.26 L572.29 326.15 L572.50 324.22 L572.70 322.48 L572.91 320.97 L573.11 319.70 L573.32 318.69 L573.52 317.96 L573.73 317.50 L573.93 317.33 L574.14 317.45 L574.34 317.85 L574.55 318.54 L574.75 319.49 L574.96 320.70 L575.16 322.14 L575.37 323.81 L575.57 325.67 L575.78 327.70 L575.98 329.87 L576.19 332.16 L576.39 334.53 L576.60 336.95 L576.80 339.39 L577.01 341.81 L577.21 344.19 L577.42 346.49 L577.62 348.68 L577.83 350.74 L578.03 352.63 L578.24 354.33 L578.44 355.82 L578.65 357.08 L578.85 358.09 L579.06 358.85 L579.26 359.33 L579.47 359.55 L579.67 359.49 L579.88 359.15 L580.08 358.54 L580.29 357.68 L580.49 356.57 L580.70 355.23 L580.90 353.67 L581.11 351.93 L581.31 350.01 L581.52 347.96 L581.72 345.79 L581.93 343.54 L582.13 341.23 L582.34 338.90 L582.54 336.58 L582.75 334.30 L582.95 332.08 L583.16 329.97 L583.36 327.98 L583.57 326.15 L583.77 324.49 L583.98 323.03 L584.18 321.79 L584.39 320.78 L584.59 320.01 L584.80 319.50 L585.00 319.25 L585.21 319.26 L585.41 319.53 L585.62 320.06 L585.82 320.84 L586.03 321.85 L586.23 323.09 L586.44 324.53 L586.64 326.16 L586.85 327.96 L587.05 329.89 L587.26 331.93 L587.46 334.06 L587.67 336.25 L587.87 338.46 L588.08 340.67 L588.28 342.84 L588.49 344.96 L588.69 346.98 L588.90 348.89 L589.10 350.66 L589.31 352.27 L589.51 353.69 L589.72 354.91 L589.92 355.91 L590.13 356.68 L590.33 357.21 L590.54 357.49 L590.74 357.52 L590.95 357.31 L591.15 356.85 L591.36 356.16 L591.56 355.24 L591.77 354.11 L591.97 352.77 L592.18 351.26 L592.38 349.59 L592.59 347.79 L592.79 345.88 L593.00 343.88 L593.20 341.82 L593.41 339.74 L593.61 337.65 L593.82 335.59 L594.02 333.58 L594.23 331.65 L594.43 329.83 L594.64 328.14 L594.84 326.59 L595.05 325.22 L595.25 324.04 L595.46 323.06 L595.66 322.29 L595.87 321.75 L596.07 321.44 L596.28 321.37 L596.48 321.53 L596.69 321.92 L596.89 322.53 L597.10 323.36 L597.30 324.39 L597.51 325.61 L597.71 327.00 L597.92 328.54 L598.12 330.21 L598.33 331.99 L598.53 333.85 L598.74 335.77 L598.94 337.72 L599.15 339.68 L599.35 341.62 L599.56 343.51 L599.76 345.33 L599.97 347.06 L600.17 348.66 L600.38 350.13 L600.58 351.45 L600.79 352.58 L600.99 353.54" stroke="#553a85" stroke-width="1.8" fill="none" stroke-linejoin="round"/>
<path d="M470.00 351.16 L470.21 348.24 L470.41 345.20 L470.62 342.07 L470.82 338.90 L471.03 335.73 L471.23 332.60 L471.44 329.56 L471.64 326.64 L471.85 323.89 L472.05 321.33 L472.25 319.01 L472.46 316.95 L472.67 315.19 L472.87 313.74 L473.07 312.63 L473.28 311.87 L473.49 311.47 L473.69 311.43 L473.89 311.76 L474.10 312.45 L474.31 313.49 L474.51 314.88 L474.72 316.58 L474.92 318.58 L475.12 320.85 L475.33 323.36 L475.54 326.08 L475.74 328.97 L475.94 331.99 L476.15 335.10 L476.36 338.26 L476.56 341.44 L476.76 344.58 L476.97 347.64 L477.18 350.59 L477.38 353.38 L477.58 355.97 L477.79 358.35 L478.00 360.46 L478.20 362.28 L478.40 363.79 L478.61 364.97 L478.81 365.81 L479.02 366.28 L479.22 366.39 L479.43 366.14 L479.63 365.52 L479.84 364.54 L480.04 363.23 L480.25 361.59 L480.45 359.65 L480.66 357.43 L480.87 354.96 L481.07 352.28 L481.27 349.42 L481.48 346.43 L481.69 343.33 L481.89 340.17 L482.09 337.00 L482.30 333.85 L482.50 330.77 L482.71 327.79 L482.91 324.97 L483.12 322.33 L483.32 319.91 L483.53 317.74 L483.73 315.86 L483.94 314.28 L484.14 313.03 L484.35 312.13 L484.55 311.58 L484.76 311.40 L484.96 311.58 L485.17 312.13 L485.37 313.03 L485.58 314.28 L485.78 315.86 L485.99 317.74 L486.19 319.91 L486.40 322.33 L486.60 324.97 L486.81 327.79 L487.01 330.77 L487.22 333.85 L487.42 337.00 L487.63 340.17 L487.83 343.33 L488.04 346.43 L488.24 349.42 L488.45 352.28 L488.65 354.96 L488.86 357.43 L489.06 359.65 L489.27 361.59 L489.47 363.23 L489.68 364.54 L489.88 365.52 L490.09 366.14 L490.29 366.39 L490.50 366.28 L490.70 365.81 L490.91 364.97 L491.11 363.79 L491.32 362.28 L491.52 360.46 L491.73 358.35 L491.93 355.97 L492.14 353.38 L492.34 350.59 L492.55 347.64 L492.75 344.58 L492.96 341.44 L493.16 338.26 L493.37 335.10 L493.57 331.99 L493.78 328.97 L493.98 326.08 L494.19 323.36 L494.39 320.85 L494.60 318.58 L494.80 316.58 L495.01 314.88 L495.21 313.49 L495.42 312.45 L495.62 311.76 L495.83 311.43 L496.03 311.47 L496.24 311.87 L496.44 312.63 L496.65 313.74 L496.85 315.19 L497.06 316.95 L497.26 319.01 L497.47 321.33 L497.67 323.89 L497.88 326.64 L498.08 329.56 L498.29 332.60 L498.49 335.73 L498.70 338.90 L498.90 342.07 L499.11 345.20 L499.31 348.24 L499.52 351.16 L499.72 353.91 L499.93 356.47 L500.13 358.79 L500.34 360.84 L500.54 362.61 L500.75 364.05 L500.95 365.16 L501.16 365.93 L501.36 366.33 L501.57 366.36 L501.77 366.03 L501.98 365.34 L502.18 364.29 L502.39 362.91 L502.59 361.21 L502.80 359.21 L503.00 356.93 L503.21 354.41 L503.41 351.69 L503.62 348.80 L503.82 345.79 L504.03 342.68 L504.23 339.53 L504.44 336.38 L504.64 333.26 L504.85 330.22 L505.05 327.30 L505.26 324.54 L505.46 321.97 L505.67 319.63 L505.87 317.55 L506.08 315.76 L506.28 314.28 L506.49 313.13 L506.69 312.32 L506.90 311.87 L507.10 311.78 L507.31 312.05 L507.51 312.68 L507.72 313.66 L507.92 314.97 L508.13 316.60 L508.33 318.52 L508.54 320.71 L508.74 323.14 L508.95 325.78 L509.15 328.59 L509.36 331.53 L509.56 334.57 L509.77 337.66 L509.97 340.76 L510.18 343.83 L510.38 346.84 L510.59 349.73 L510.79 352.47 L511.00 355.03 L511.20 357.37 L511.41 359.46 L511.61 361.28 L511.82 362.79 L512.02 363.98 L512.23 364.84 L512.43 365.35 L512.64 365.51 L512.84 365.31 L513.05 364.76 L513.25 363.87 L513.46 362.64 L513.66 361.11 L513.87 359.27 L514.07 357.17 L514.28 354.83 L514.48 352.29 L514.69 349.56 L514.89 346.70 L515.10 343.74 L515.30 340.72 L515.51 337.68 L515.71 334.67 L515.92 331.71 L516.12 328.86 L516.33 326.14 L516.53 323.60 L516.74 321.26 L516.94 319.17 L517.15 317.34 L517.35 315.80 L517.56 314.57 L517.76 313.67 L517.97 313.10 L518.17 312.88 L518.38 313.01 L518.58 313.48 L518.79 314.29 L518.99 315.42 L519.20 316.87 L519.40 318.61 L519.61 320.61 L519.81 322.86 L520.02 325.31 L520.22 327.94 L520.43 330.71 L520.63 333.59 L520.84 336.53 L521.04 339.49 L521.25 342.45 L521.45 345.35 L521.66 348.16 L521.86 350.84 L522.07 353.35 L522.27 355.67 L522.48 357.77 L522.68 359.60 L522.89 361.16 L523.09 362.42 L523.30 363.36 L523.50 363.97 L523.71 364.25 L523.91 364.19 L524.12 363.80 L524.32 363.07 L524.53 362.02 L524.73 360.67 L524.94 359.03 L525.14 357.13 L525.35 354.98 L525.55 352.63 L525.76 350.10 L525.96 347.42 L526.17 344.64 L526.37 341.79 L526.58 338.90 L526.78 336.02 L526.99 333.18 L527.19 330.43 L527.40 327.80 L527.60 325.31 L527.81 323.02 L528.01 320.94 L528.22 319.11 L528.42 317.54 L528.63 316.26 L528.83 315.28 L529.04 314.62 L529.24 314.29 L529.45 314.29 L529.65 314.61 L529.86 315.25 L530.06 316.21 L530.27 317.47 L530.47 319.01 L530.68 320.81 L530.88 322.85 L531.09 325.10 L531.29 327.53 L531.50 330.10 L531.70 332.78 L531.91 335.54 L532.11 338.34 L532.32 341.14 L532.52 343.90 L532.73 346.59 L532.93 349.17 L533.14 351.60 L533.34 353.86 L533.55 355.92 L533.75 357.75 L533.96 359.32 L534.16 360.61 L534.37 361.61 L534.57 362.31 L534.78 362.69 L534.98 362.76 L535.19 362.51 L535.39 361.94 L535.60 361.07 L535.80 359.92 L536.01 358.49 L536.21 356.80 L536.42 354.87 L536.62 352.74 L536.83 350.42 L537.03 347.95 L537.24 345.37 L537.44 342.70 L537.65 339.99 L537.85 337.27 L538.06 334.57 L538.26 331.93 L538.47 329.39 L538.67 326.98 L538.88 324.73 L539.08 322.68 L539.29 320.84 L539.49 319.25 L539.70 317.92 L539.90 316.87 L540.11 316.12 L540.31 315.67 L540.52 315.53 L540.72 315.70 L540.93 316.19 L541.13 316.97 L541.34 318.05 L541.54 319.40 L541.75 321.01 L541.95 322.85 L542.16 324.91 L542.36 327.14 L542.57 329.54 L542.77 332.05 L542.98 334.65 L543.18 337.30 L543.39 339.97 L543.59 342.62 L543.80 345.21 L544.00 347.72 L544.21 350.11 L544.41 352.34 L544.62 354.39 L544.82 356.23 L545.03 357.84 L545.23 359.19 L545.44 360.27 L545.64 361.06 L545.85 361.55 L546.05 361.75 L546.26 361.63 L546.46 361.22 L546.67 360.51 L546.87 359.51 L547.08 358.24 L547.28 356.72 L547.49 354.96 L547.69 352.99 L547.90 350.83 L548.10 348.52 L548.31 346.09 L548.51 343.57 L548.72 340.98 L548.92 338.38 L549.13 335.79 L549.33 333.24 L549.54 330.77 L549.74 328.42 L549.95 326.21 L550.15 324.18 L550.36 322.34 L550.56 320.73 L550.77 319.36 L550.97 318.26 L551.18 317.44 L551.38 316.90 L551.59 316.65 L551.79 316.70 L552.00 317.05 L552.20 317.69 L552.41 318.61 L552.61 319.80 L552.82 321.24 L553.02 322.91 L553.23 324.79 L553.43 326.85 L553.64 329.08 L553.84 331.42 L554.05 333.86 L554.25 336.37 L554.46 338.90 L554.66 341.43 L554.87 343.91 L555.07 346.33 L555.28 348.64 L555.48 350.81 L555.69 352.83 L555.89 354.65 L556.10 356.26 L556.30 357.63 L556.51 358.75 L556.71 359.61 L556.92 360.18 L557.12 360.47 L557.33 360.48 L557.53 360.19 L557.74 359.63 L557.94 358.79 L558.15 357.68 L558.35 356.33 L558.56 354.75 L558.76 352.96 L558.97 350.99 L559.17 348.87 L559.38 346.61 L559.58 344.26 L559.79 341.84 L559.99 339.39 L560.20 336.94 L560.40 334.52 L560.61 332.17 L560.81 329.91 L561.02 327.77 L561.22 325.79 L561.43 323.99 L561.63 322.40 L561.84 321.02 L562.04 319.89 L562.25 319.02 L562.45 318.41 L562.66 318.07 L562.86 318.02 L563.07 318.24 L563.27 318.73 L563.48 319.50 L563.68 320.52 L563.89 321.78 L564.09 323.27 L564.30 324.96 L564.50 326.83 L564.71 328.86 L564.91 331.01 L565.12 333.27 L565.32 335.59 L565.53 337.95 L565.73 340.32 L565.94 342.66 L566.14 344.95 L566.35 347.14 L566.55 349.23 L566.76 351.16 L566.96 352.93 L567.17 354.51 L567.37 355.88 L567.58 357.01 L567.78 357.90 L567.99 358.54 L568.19 358.91 L568.40 359.01 L568.60 358.85 L568.81 358.42 L569.01 357.73 L569.22 356.80 L569.42 355.63 L569.63 354.23 L569.83 352.64 L570.04 350.88 L570.24 348.95 L570.45 346.90 L570.65 344.75 L570.86 342.53 L571.06 340.27 L571.27 337.99 L571.47 335.74 L571.68 333.53 L571.88 331.40 L572.09 329.38 L572.29 327.49 L572.50 325.76 L572.70 324.22 L572.91 322.87 L573.11 321.74 L573.32 320.84 L573.52 320.18 L573.73 319.78 L573.93 319.63 L574.14 319.74 L574.34 320.10 L574.55 320.72 L574.75 321.57 L574.96 322.65 L575.16 323.94 L575.37 325.43 L575.57 327.10 L575.78 328.91 L575.98 330.85 L576.19 332.89 L576.39 335.00 L576.60 337.16 L576.80 339.33 L577.01 341.49 L577.21 343.61 L577.42 345.66 L577.62 347.61 L577.83 349.44 L578.03 351.12 L578.24 352.63 L578.44 353.95 L578.65 355.07 L578.85 355.97 L579.06 356.63 L579.26 357.06 L579.47 357.25 L579.67 357.19 L579.88 356.89 L580.08 356.35 L580.29 355.58 L580.49 354.59 L580.70 353.39 L580.90 352.01 L581.11 350.46 L581.31 348.76 L581.52 346.93 L581.72 345.01 L581.93 343.01 L582.13 340.96 L582.34 338.90 L582.54 336.84 L582.75 334.82 L582.95 332.87 L583.16 331.00 L583.36 329.24 L583.57 327.62 L583.77 326.15 L583.98 324.87 L584.18 323.77 L584.39 322.88 L584.59 322.21 L584.80 321.76 L585.00 321.54 L585.21 321.55 L585.41 321.80 L585.62 322.27 L585.82 322.96 L586.03 323.86 L586.23 324.96 L586.44 326.23 L586.64 327.67 L586.85 329.26 L587.05 330.96 L587.26 332.76 L587.46 334.64 L587.67 336.56 L587.87 338.51 L588.08 340.45 L588.28 342.37 L588.49 344.23 L588.69 346.01 L588.90 347.68 L589.10 349.23 L589.31 350.64 L589.51 351.89 L589.72 352.95 L589.92 353.82 L590.13 354.50 L590.33 354.96 L590.54 355.20 L590.74 355.23 L590.95 355.03 L591.15 354.63 L591.36 354.02 L591.56 353.21 L591.77 352.21 L591.97 351.04 L592.18 349.71 L592.38 348.25 L592.59 346.67 L592.79 345.00 L593.00 343.25 L593.20 341.45 L593.41 339.63 L593.61 337.81 L593.82 336.01 L594.02 334.26 L594.23 332.58 L594.43 330.99 L594.64 329.52 L594.84 328.18 L595.05 326.99 L595.25 325.96 L595.46 325.12 L595.66 324.46 L595.87 323.99 L596.07 323.73 L596.28 323.67 L596.48 323.81 L596.69 324.16 L596.89 324.69 L597.10 325.42 L597.30 326.32 L597.51 327.38 L597.71 328.59 L597.92 329.93 L598.12 331.38 L598.33 332.92 L598.53 334.53 L598.74 336.19 L598.94 337.88 L599.15 339.58 L599.35 341.25 L599.56 342.88 L599.76 344.45 L599.97 345.94 L600.17 347.32 L600.38 348.58 L600.58 349.71 L600.79 350.69 L600.99 351.50" stroke="#62be9c" stroke-width="2.05" fill="none" stroke-linejoin="round"/>
</g>
<rect x="474.4" y="308.9" width="123.2" height="59.9" fill="none" stroke="#111" stroke-width="1.1"/>
<path d="M494.6 308.9 v6.8 M515.1 308.9 v3.4 M535.6 308.9 v6.8 M556.1 308.9 v3.4 M576.6 308.9 v6.8" stroke="#161616" stroke-width="1" fill="none"/>
<text x="494.6" y="301.7" text-anchor="middle">0</text>
<text x="535.6" y="301.7" text-anchor="middle">10</text>
<text x="576.6" y="301.7" text-anchor="middle">20</text>
</g>
</svg>
</body></html>
